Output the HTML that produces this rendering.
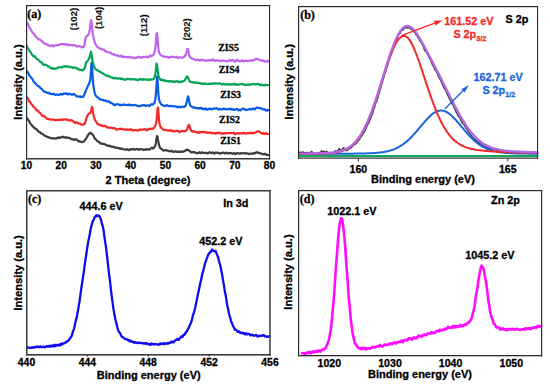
<!DOCTYPE html>
<html><head><meta charset="utf-8"><style>
html,body{margin:0;padding:0;background:#fff;}
body{width:550px;height:385px;overflow:hidden;position:relative;font-family:"Liberation Sans",sans-serif;}
svg{position:absolute;left:0;top:0;}
</style></head><body>
<svg width="550" height="385" viewBox="0 0 550 385">
<rect width="550" height="385" fill="#fff"/>
<path d="M27.00 118.14L27.50 118.94L28.00 119.59L28.50 120.25L29.00 120.88L29.50 121.81L30.00 122.88L30.50 123.66L31.00 124.18L31.50 124.65L32.00 125.44L32.50 126.19L33.00 126.49L33.50 126.97L34.00 127.63L34.50 128.07L35.00 128.47L35.50 128.42L36.00 128.90L36.50 129.06L37.00 129.82L37.50 130.24L38.00 131.07L38.50 131.54L39.00 132.13L39.50 131.93L40.00 132.14L40.50 132.51L41.00 133.38L41.50 133.50L42.00 133.73L42.50 133.82L43.00 134.26L43.50 134.86L44.00 135.17L44.50 135.59L45.00 135.81L45.50 136.10L46.00 136.34L46.50 136.43L47.00 136.80L47.50 136.80L48.00 137.00L48.50 137.43L49.00 137.51L49.50 137.77L50.00 137.62L50.50 137.89L51.00 138.21L51.50 138.42L52.00 138.38L52.50 138.06L53.00 138.08L53.50 138.33L54.00 138.48L54.50 138.38L55.00 138.56L55.50 138.70L56.00 138.54L56.50 138.40L57.00 137.95L57.50 138.04L58.00 137.67L58.50 137.56L59.00 137.40L59.50 137.72L60.00 137.98L60.50 137.66L61.00 137.23L61.50 137.05L62.00 136.85L62.50 136.87L63.00 136.69L63.50 137.34L64.00 137.58L64.50 137.56L65.00 137.28L65.50 137.15L66.00 137.60L66.50 137.67L67.00 137.76L67.50 137.64L68.00 137.82L68.50 137.97L69.00 137.80L69.50 137.97L70.00 138.06L70.50 138.66L71.00 138.95L71.50 139.18L72.00 139.22L72.50 139.16L73.00 139.52L73.50 139.51L74.00 139.82L74.50 139.48L75.00 139.70L75.50 139.40L76.00 139.41L76.50 139.46L77.00 139.80L77.50 140.42L78.00 141.12L78.50 141.31L79.00 141.32L79.50 141.07L80.00 141.49L80.50 141.72L81.00 141.75L81.50 141.90L82.00 142.12L82.50 142.00L83.00 141.87L83.50 141.70L84.00 141.29L84.50 140.71L85.00 139.73L85.50 139.31L86.00 138.56L86.50 138.05L87.00 136.98L87.50 136.17L88.00 135.05L88.50 134.34L89.00 133.85L89.50 133.24L90.00 133.19L90.50 132.58L91.00 133.28L91.50 133.25L92.00 134.18L92.50 134.51L93.00 134.93L93.50 135.78L94.00 136.91L94.50 138.11L95.00 138.65L95.50 139.05L96.00 139.43L96.50 140.23L97.00 140.66L97.50 141.31L98.00 141.36L98.50 141.75L99.00 141.86L99.50 142.59L100.00 142.96L100.50 143.64L101.00 143.59L101.50 143.66L102.00 143.56L102.50 143.60L103.00 143.89L103.50 144.04L104.00 144.25L104.50 144.15L105.00 144.24L105.50 144.81L106.00 145.14L106.50 145.27L107.00 145.18L107.50 145.78L108.00 145.87L108.50 145.92L109.00 145.66L109.50 145.74L110.00 146.06L110.50 146.30L111.00 146.78L111.50 146.58L112.00 146.79L112.50 146.77L113.00 147.00L113.50 146.79L114.00 146.76L114.50 147.17L115.00 147.39L115.50 147.80L116.00 147.62L116.50 147.74L117.00 147.67L117.50 147.90L118.00 148.02L118.50 148.19L119.00 148.16L119.50 148.54L120.00 148.80L120.50 148.96L121.00 148.69L121.50 148.35L122.00 148.54L122.50 148.92L123.00 149.24L123.50 149.23L124.00 149.26L124.50 149.52L125.00 149.65L125.50 149.46L126.00 149.65L126.50 149.26L127.00 149.57L127.50 149.41L128.00 149.87L128.50 150.11L129.00 150.34L129.50 149.96L130.00 149.26L130.50 149.14L131.00 149.18L131.50 149.52L132.00 149.53L132.50 149.41L133.00 148.99L133.50 148.88L134.00 149.23L134.50 149.61L135.00 149.57L135.50 149.39L136.00 149.13L136.50 149.09L137.00 149.07L137.50 149.05L138.00 149.18L138.50 149.37L139.00 149.78L139.50 149.48L140.00 149.35L140.50 149.07L141.00 149.09L141.50 149.26L142.00 149.29L142.50 149.54L143.00 149.57L143.50 150.13L144.00 149.77L144.50 149.87L145.00 149.43L145.50 149.70L146.00 149.22L146.50 149.13L147.00 149.26L147.50 149.52L148.00 149.61L148.50 149.37L149.00 149.58L149.50 149.52L150.00 149.09L150.50 148.65L151.00 148.18L151.50 147.87L152.00 147.78L152.50 148.28L153.00 148.72L153.50 148.28L154.00 147.38L154.50 146.95L155.00 146.22L155.50 144.85L156.00 142.16L156.50 138.76L157.00 136.02L157.50 136.58L158.00 139.91L158.50 142.84L159.00 145.15L159.50 146.48L160.00 147.89L160.50 148.20L161.00 148.79L161.50 148.92L162.00 149.18L162.50 149.77L163.00 150.24L163.50 150.57L164.00 150.51L164.50 150.40L165.00 150.07L165.50 150.05L166.00 150.05L166.50 150.67L167.00 150.47L167.50 150.50L168.00 150.51L168.50 151.02L169.00 151.20L169.50 151.28L170.00 151.39L170.50 151.26L171.00 151.22L171.50 150.59L172.00 151.06L172.50 151.37L173.00 151.96L173.50 151.82L174.00 151.68L174.50 151.58L175.00 151.43L175.50 151.40L176.00 151.40L176.50 151.79L177.00 151.98L177.50 151.98L178.00 151.59L178.50 151.38L179.00 151.74L179.50 151.98L180.00 152.14L180.50 151.76L181.00 151.44L181.50 151.41L182.00 151.65L182.50 151.78L183.00 151.71L183.50 151.43L184.00 151.45L184.50 151.04L185.00 150.83L185.50 150.35L186.00 150.46L186.50 149.86L187.00 149.68L187.50 149.63L188.00 149.96L188.50 150.24L189.00 150.52L189.50 151.04L190.00 151.30L190.50 151.61L191.00 152.21L191.50 152.50L192.00 152.48L192.50 151.95L193.00 152.14L193.50 151.99L194.00 152.02L194.50 152.26L195.00 152.37L195.50 152.84L196.00 152.92L196.50 153.18L197.00 153.10L197.50 153.21L198.00 153.14L198.50 152.92L199.00 152.27L199.50 152.34L200.00 152.77L200.50 153.25L201.00 153.07L201.50 152.61L202.00 152.33L202.50 152.59L203.00 152.73L203.50 152.89L204.00 152.90L204.50 152.89L205.00 152.85L205.50 152.84L206.00 152.89L206.50 153.01L207.00 153.35L207.50 153.50L208.00 153.42L208.50 152.70L209.00 152.67L209.50 152.27L210.00 152.34L210.50 152.44L211.00 152.98L211.50 153.24L212.00 152.73L212.50 152.52L213.00 152.42L213.50 152.90L214.00 153.44L214.50 153.63L215.00 153.35L215.50 152.66L216.00 152.61L216.50 152.74L217.00 152.75L217.50 152.79L218.00 152.60L218.50 153.06L219.00 153.26L219.50 153.72L220.00 153.40L220.50 153.30L221.00 153.06L221.50 153.08L222.00 152.92L222.50 152.69L223.00 152.48L223.50 152.72L224.00 152.95L224.50 153.30L225.00 153.35L225.50 153.04L226.00 152.85L226.50 152.69L227.00 153.13L227.50 153.22L228.00 153.40L228.50 153.37L229.00 153.21L229.50 152.83L230.00 152.96L230.50 153.31L231.00 153.12L231.50 153.24L232.00 153.28L232.50 153.95L233.00 153.61L233.50 153.44L234.00 152.95L234.50 153.55L235.00 153.59L235.50 154.15L236.00 153.52L236.50 153.60L237.00 152.96L237.50 153.03L238.00 153.21L238.50 153.31L239.00 153.61L239.50 153.50L240.00 153.56L240.50 153.25L241.00 153.11L241.50 153.32L242.00 153.33L242.50 153.27L243.00 153.23L243.50 153.15L244.00 153.07L244.50 153.14L245.00 153.53L245.50 153.50L246.00 153.52L246.50 153.22L247.00 153.35L247.50 153.53L248.00 153.56L248.50 154.07L249.00 153.74L249.50 153.92L250.00 153.57L250.50 153.57L251.00 153.60L251.50 153.59L252.00 153.84L252.50 153.67L253.00 153.42L253.50 153.21L254.00 153.14L254.50 153.44L255.00 153.15L255.50 153.00L256.00 152.33L256.50 152.56L257.00 152.34L257.50 152.39L258.00 152.38L258.50 153.00L259.00 153.24L259.50 153.21L260.00 153.00L260.50 153.22L261.00 153.64L261.50 153.73L262.00 153.91L262.50 154.03L263.00 154.11L263.50 154.41L264.00 154.16L264.50 154.12L265.00 153.71L265.50 154.33L266.00 154.55L266.50 155.02L267.00 154.68L267.50 154.81L268.00 154.81L268.50 155.24L269.00 155.25" fill="none" stroke="#3c3c3c" stroke-width="2.20" stroke-linejoin="round" stroke-linecap="round"/>
<path d="M27.00 97.30L27.50 97.91L28.00 98.65L28.50 99.89L29.00 101.01L29.50 101.82L30.00 102.09L30.50 102.53L31.00 103.67L31.50 104.03L32.00 104.84L32.50 104.96L33.00 106.34L33.50 106.60L34.00 107.33L34.50 107.38L35.00 107.93L35.50 108.80L36.00 109.77L36.50 110.38L37.00 110.41L37.50 110.33L38.00 110.79L38.50 111.41L39.00 112.22L39.50 112.72L40.00 112.93L40.50 113.37L41.00 113.81L41.50 114.73L42.00 115.54L42.50 115.93L43.00 115.92L43.50 115.92L44.00 116.21L44.50 116.57L45.00 116.91L45.50 117.15L46.00 117.77L46.50 118.10L47.00 118.69L47.50 118.84L48.00 118.98L48.50 118.97L49.00 119.13L49.50 119.28L50.00 119.62L50.50 119.76L51.00 119.69L51.50 119.73L52.00 119.53L52.50 119.75L53.00 119.73L53.50 119.63L54.00 119.80L54.50 119.91L55.00 120.31L55.50 120.20L56.00 120.08L56.50 119.89L57.00 119.89L57.50 119.81L58.00 119.98L58.50 119.75L59.00 119.85L59.50 119.81L60.00 119.97L60.50 119.78L61.00 119.80L61.50 119.44L62.00 119.57L62.50 119.46L63.00 119.80L63.50 119.75L64.00 119.54L64.50 119.40L65.00 119.43L65.50 119.65L66.00 119.75L66.50 119.37L67.00 119.48L67.50 119.79L68.00 120.43L68.50 120.52L69.00 120.12L69.50 120.26L70.00 120.32L70.50 120.27L71.00 120.31L71.50 120.20L72.00 120.62L72.50 120.59L73.00 121.33L73.50 121.70L74.00 122.06L74.50 122.33L75.00 122.89L75.50 122.98L76.00 122.75L76.50 122.34L77.00 122.38L77.50 122.68L78.00 123.18L78.50 123.49L79.00 123.76L79.50 123.66L80.00 123.76L80.50 123.85L81.00 124.27L81.50 124.65L82.00 124.72L82.50 124.67L83.00 124.63L83.50 124.42L84.00 124.19L84.50 124.09L85.00 123.04L85.50 121.57L86.00 119.46L86.50 118.12L87.00 116.72L87.50 115.87L88.00 114.66L88.50 113.88L89.00 113.53L89.50 113.56L90.00 113.12L90.50 112.39L91.00 111.43L91.50 109.05L92.00 106.89L92.50 107.88L93.00 112.08L93.50 115.31L94.00 117.31L94.50 118.64L95.00 119.63L95.50 120.72L96.00 121.58L96.50 122.35L97.00 122.97L97.50 123.88L98.00 124.23L98.50 124.36L99.00 124.30L99.50 124.86L100.00 125.11L100.50 125.58L101.00 125.32L101.50 125.47L102.00 125.31L102.50 125.83L103.00 126.24L103.50 126.13L104.00 125.94L104.50 125.95L105.00 126.27L105.50 126.29L106.00 126.57L106.50 126.94L107.00 127.47L107.50 127.29L108.00 127.51L108.50 127.47L109.00 127.89L109.50 127.59L110.00 127.56L110.50 127.46L111.00 127.58L111.50 127.96L112.00 128.05L112.50 128.08L113.00 128.03L113.50 127.99L114.00 128.43L114.50 128.36L115.00 128.42L115.50 128.55L116.00 129.20L116.50 129.76L117.00 129.60L117.50 129.26L118.00 129.23L118.50 129.26L119.00 129.08L119.50 128.86L120.00 129.03L120.50 129.12L121.00 128.82L121.50 128.50L122.00 128.85L122.50 129.08L123.00 129.39L123.50 129.35L124.00 129.67L124.50 129.67L125.00 129.77L125.50 129.50L126.00 129.53L126.50 129.25L127.00 129.69L127.50 129.78L128.00 129.86L128.50 129.58L129.00 129.55L129.50 129.86L130.00 129.62L130.50 129.46L131.00 129.24L131.50 130.07L132.00 130.47L132.50 130.53L133.00 130.16L133.50 130.38L134.00 130.35L134.50 130.13L135.00 129.96L135.50 130.10L136.00 130.31L136.50 129.96L137.00 130.24L137.50 130.45L138.00 130.66L138.50 130.41L139.00 129.65L139.50 129.66L140.00 129.48L140.50 129.97L141.00 129.97L141.50 129.94L142.00 129.50L142.50 129.43L143.00 129.34L143.50 129.61L144.00 129.40L144.50 129.47L145.00 129.06L145.50 129.41L146.00 129.52L146.50 130.19L147.00 130.32L147.50 130.25L148.00 129.63L148.50 129.02L149.00 128.74L149.50 128.95L150.00 129.10L150.50 128.87L151.00 128.97L151.50 128.55L152.00 128.89L152.50 128.65L153.00 128.69L153.50 128.35L154.00 127.89L154.50 127.31L155.00 126.20L155.50 125.08L156.00 123.57L156.50 120.91L157.00 115.64L157.50 108.93L158.00 107.53L158.50 113.60L159.00 119.47L159.50 123.41L160.00 125.32L160.50 126.73L161.00 127.55L161.50 128.19L162.00 128.38L162.50 128.71L163.00 129.44L163.50 129.84L164.00 130.02L164.50 129.80L165.00 130.08L165.50 130.00L166.00 129.94L166.50 130.06L167.00 130.41L167.50 130.55L168.00 130.74L168.50 130.61L169.00 130.66L169.50 130.29L170.00 130.78L170.50 130.42L171.00 130.44L171.50 130.09L172.00 130.68L172.50 131.00L173.00 131.46L173.50 131.07L174.00 131.17L174.50 130.90L175.00 131.15L175.50 131.17L176.00 131.11L176.50 130.89L177.00 130.76L177.50 130.70L178.00 131.04L178.50 131.24L179.00 131.64L179.50 132.12L180.00 132.03L180.50 131.67L181.00 131.20L181.50 131.05L182.00 131.09L182.50 131.31L183.00 131.32L183.50 131.11L184.00 131.07L184.50 131.06L185.00 131.36L185.50 130.99L186.00 130.77L186.50 130.15L187.00 129.52L187.50 128.20L188.00 126.61L188.50 125.11L189.00 124.92L189.50 126.33L190.00 127.84L190.50 129.39L191.00 129.96L191.50 130.88L192.00 131.23L192.50 131.52L193.00 131.03L193.50 131.10L194.00 131.44L194.50 131.73L195.00 131.88L195.50 131.83L196.00 132.14L196.50 132.02L197.00 132.18L197.50 132.31L198.00 133.01L198.50 132.85L199.00 132.59L199.50 131.92L200.00 132.31L200.50 132.20L201.00 132.30L201.50 132.16L202.00 132.22L202.50 132.14L203.00 132.08L203.50 131.87L204.00 131.79L204.50 131.83L205.00 132.30L205.50 132.58L206.00 132.32L206.50 132.22L207.00 132.44L207.50 132.93L208.00 133.02L208.50 132.70L209.00 132.73L209.50 132.65L210.00 132.61L210.50 132.33L211.00 132.76L211.50 133.06L212.00 133.47L212.50 133.09L213.00 133.25L213.50 132.91L214.00 132.99L214.50 133.31L215.00 133.60L215.50 133.54L216.00 133.04L216.50 132.96L217.00 133.31L217.50 133.24L218.00 132.83L218.50 132.54L219.00 132.65L219.50 133.03L220.00 133.36L220.50 133.42L221.00 133.57L221.50 133.08L222.00 133.20L222.50 133.46L223.00 133.85L223.50 133.72L224.00 133.34L224.50 133.54L225.00 133.31L225.50 133.26L226.00 132.99L226.50 133.33L227.00 133.27L227.50 133.24L228.00 133.03L228.50 133.15L229.00 133.06L229.50 132.89L230.00 132.86L230.50 133.07L231.00 133.11L231.50 133.07L232.00 133.02L232.50 133.01L233.00 133.09L233.50 132.75L234.00 133.20L234.50 133.63L235.00 134.26L235.50 133.99L236.00 133.67L236.50 133.29L237.00 133.36L237.50 133.53L238.00 133.24L238.50 133.44L239.00 133.12L239.50 133.68L240.00 133.50L240.50 133.38L241.00 133.16L241.50 133.27L242.00 133.42L242.50 133.47L243.00 133.21L243.50 132.78L244.00 132.87L244.50 133.11L245.00 133.58L245.50 133.41L246.00 133.48L246.50 133.36L247.00 133.20L247.50 132.95L248.00 133.28L248.50 133.13L249.00 133.40L249.50 133.02L250.00 133.07L250.50 133.07L251.00 133.15L251.50 133.08L252.00 132.72L252.50 132.89L253.00 133.33L253.50 133.25L254.00 133.06L254.50 132.86L255.00 132.68L255.50 132.51L256.00 132.17L256.50 131.97L257.00 131.58L257.50 131.40L258.00 131.38L258.50 131.35L259.00 131.34L259.50 131.75L260.00 132.15L260.50 132.67L261.00 132.92L261.50 133.20L262.00 133.66L262.50 133.40L263.00 133.57L263.50 133.15L264.00 133.78L264.50 134.04L265.00 133.78L265.50 133.27L266.00 133.11L266.50 133.71L267.00 134.10L267.50 133.99L268.00 133.96L268.50 133.98L269.00 134.02" fill="none" stroke="#f42828" stroke-width="2.20" stroke-linejoin="round" stroke-linecap="round"/>
<path d="M27.00 71.18L27.50 71.69L28.00 72.77L28.50 73.27L29.00 74.79L29.50 75.44L30.00 76.26L30.50 76.89L31.00 77.48L31.50 78.17L32.00 78.46L32.50 79.30L33.00 80.22L33.50 81.36L34.00 81.93L34.50 82.62L35.00 82.98L35.50 83.53L36.00 83.96L36.50 84.68L37.00 85.12L37.50 85.44L38.00 85.66L38.50 86.20L39.00 86.52L39.50 87.20L40.00 87.53L40.50 88.24L41.00 88.29L41.50 88.86L42.00 89.26L42.50 89.75L43.00 90.48L43.50 90.85L44.00 91.66L44.50 91.79L45.00 91.91L45.50 91.79L46.00 92.00L46.50 92.46L47.00 92.85L47.50 92.99L48.00 92.87L48.50 93.04L49.00 92.84L49.50 93.42L50.00 93.45L50.50 93.88L51.00 93.89L51.50 94.21L52.00 94.17L52.50 93.95L53.00 93.76L53.50 93.71L54.00 93.92L54.50 94.48L55.00 94.69L55.50 95.01L56.00 94.40L56.50 94.64L57.00 94.40L57.50 94.62L58.00 94.62L58.50 94.98L59.00 94.97L59.50 94.81L60.00 94.19L60.50 94.19L61.00 94.05L61.50 94.34L62.00 94.15L62.50 94.49L63.00 93.86L63.50 93.76L64.00 93.55L64.50 93.84L65.00 93.72L65.50 93.48L66.00 93.28L66.50 93.48L67.00 94.05L67.50 94.60L68.00 94.40L68.50 93.79L69.00 93.54L69.50 94.04L70.00 94.14L70.50 94.16L71.00 94.23L71.50 94.66L72.00 94.82L72.50 94.51L73.00 94.12L73.50 94.15L74.00 94.02L74.50 94.60L75.00 94.75L75.50 95.45L76.00 95.85L76.50 96.40L77.00 96.27L77.50 96.27L78.00 96.47L78.50 96.74L79.00 96.56L79.50 96.48L80.00 96.47L80.50 97.09L81.00 96.73L81.50 96.91L82.00 96.59L82.50 97.03L83.00 96.98L83.50 96.34L84.00 95.31L84.50 94.37L85.00 92.80L85.50 91.75L86.00 90.12L86.50 89.28L87.00 88.07L87.50 86.93L88.00 85.75L88.50 84.74L89.00 83.80L89.50 82.50L90.00 80.88L90.50 77.79L91.00 71.14L91.50 62.65L92.00 64.35L92.50 74.51L93.00 81.99L93.50 86.15L94.00 89.29L94.50 92.02L95.00 93.79L95.50 95.11L96.00 95.90L96.50 96.58L97.00 96.72L97.50 97.23L98.00 97.51L98.50 98.03L99.00 98.54L99.50 99.05L100.00 99.41L100.50 99.46L101.00 99.58L101.50 99.62L102.00 99.64L102.50 99.93L103.00 99.89L103.50 100.39L104.00 100.41L104.50 100.66L105.00 100.47L105.50 100.52L106.00 100.89L106.50 101.03L107.00 101.59L107.50 101.59L108.00 101.46L108.50 101.27L109.00 101.21L109.50 101.84L110.00 102.38L110.50 103.10L111.00 103.02L111.50 102.84L112.00 103.27L112.50 103.80L113.00 104.14L113.50 104.17L114.00 104.75L114.50 105.13L115.00 105.03L115.50 104.67L116.00 104.59L116.50 104.50L117.00 104.27L117.50 104.20L118.00 104.19L118.50 104.44L119.00 104.49L119.50 105.20L120.00 105.08L120.50 105.07L121.00 104.61L121.50 104.90L122.00 105.17L122.50 105.14L123.00 104.91L123.50 104.40L124.00 104.34L124.50 104.64L125.00 105.01L125.50 105.01L126.00 104.85L126.50 104.87L127.00 105.20L127.50 105.18L128.00 105.14L128.50 104.69L129.00 104.60L129.50 105.00L130.00 104.94L130.50 105.12L131.00 104.86L131.50 105.25L132.00 105.17L132.50 105.13L133.00 105.22L133.50 105.39L134.00 105.04L134.50 105.02L135.00 104.88L135.50 105.16L136.00 105.25L136.50 105.57L137.00 105.88L137.50 105.74L138.00 105.81L138.50 105.88L139.00 106.22L139.50 106.32L140.00 106.06L140.50 105.81L141.00 105.70L141.50 105.46L142.00 105.54L142.50 105.27L143.00 105.48L143.50 105.09L144.00 105.01L144.50 105.08L145.00 105.61L145.50 105.99L146.00 105.96L146.50 105.74L147.00 105.35L147.50 105.43L148.00 105.39L148.50 105.65L149.00 105.89L149.50 105.88L150.00 105.39L150.50 104.79L151.00 104.40L151.50 104.33L152.00 104.60L152.50 104.71L153.00 104.34L153.50 103.77L154.00 103.34L154.50 102.60L155.00 100.77L155.50 97.79L156.00 93.19L156.50 85.36L157.00 76.67L157.50 78.23L158.00 87.89L158.50 95.31L159.00 99.41L159.50 101.25L160.00 102.38L160.50 103.21L161.00 104.05L161.50 104.68L162.00 104.85L162.50 104.97L163.00 105.26L163.50 105.60L164.00 105.95L164.50 105.93L165.00 106.09L165.50 106.18L166.00 105.55L166.50 105.25L167.00 105.13L167.50 105.47L168.00 105.68L168.50 106.04L169.00 106.18L169.50 105.93L170.00 106.13L170.50 106.16L171.00 106.17L171.50 105.85L172.00 106.06L172.50 106.20L173.00 106.35L173.50 106.21L174.00 106.21L174.50 106.13L175.00 106.42L175.50 106.53L176.00 106.60L176.50 106.47L177.00 107.21L177.50 107.04L178.00 107.37L178.50 106.82L179.00 106.97L179.50 106.86L180.00 107.07L180.50 107.36L181.00 107.28L181.50 106.97L182.00 106.58L182.50 106.57L183.00 106.75L183.50 107.04L184.00 106.88L184.50 106.77L185.00 106.47L185.50 105.93L186.00 104.65L186.50 102.88L187.00 100.64L187.50 98.60L188.00 96.39L188.50 97.29L189.00 99.70L189.50 102.85L190.00 104.66L190.50 105.71L191.00 106.11L191.50 106.46L192.00 106.89L192.50 107.10L193.00 107.29L193.50 107.74L194.00 107.64L194.50 107.81L195.00 107.39L195.50 107.85L196.00 108.04L196.50 108.27L197.00 108.44L197.50 108.00L198.00 108.28L198.50 108.05L199.00 108.53L199.50 108.38L200.00 108.02L200.50 107.77L201.00 107.81L201.50 108.68L202.00 108.92L202.50 108.96L203.00 108.39L203.50 108.64L204.00 108.98L204.50 109.30L205.00 108.99L205.50 108.32L206.00 108.52L206.50 109.13L207.00 109.62L207.50 109.72L208.00 109.31L208.50 108.98L209.00 109.02L209.50 108.68L210.00 108.85L210.50 108.66L211.00 109.10L211.50 109.25L212.00 109.29L212.50 108.97L213.00 108.64L213.50 108.59L214.00 108.62L214.50 108.63L215.00 108.37L215.50 108.43L216.00 108.34L216.50 108.33L217.00 108.11L217.50 108.54L218.00 108.90L218.50 109.65L219.00 109.32L219.50 109.11L220.00 108.90L220.50 109.17L221.00 109.25L221.50 109.42L222.00 109.40L222.50 109.24L223.00 108.64L223.50 108.78L224.00 109.08L224.50 109.08L225.00 108.82L225.50 108.87L226.00 109.27L226.50 109.34L227.00 109.37L227.50 109.37L228.00 109.14L228.50 108.96L229.00 108.93L229.50 109.18L230.00 108.82L230.50 108.68L231.00 108.96L231.50 109.71L232.00 109.33L232.50 109.72L233.00 109.17L233.50 109.82L234.00 109.54L234.50 109.98L235.00 109.82L235.50 109.34L236.00 109.28L236.50 109.11L237.00 108.84L237.50 109.30L238.00 109.59L238.50 110.47L239.00 109.73L239.50 109.89L240.00 109.85L240.50 110.35L241.00 110.06L241.50 109.50L242.00 109.15L242.50 108.72L243.00 108.62L243.50 108.68L244.00 108.93L244.50 109.25L245.00 109.21L245.50 109.80L246.00 110.10L246.50 110.11L247.00 109.96L247.50 109.54L248.00 109.47L248.50 109.40L249.00 109.30L249.50 109.29L250.00 108.82L250.50 109.07L251.00 109.42L251.50 109.49L252.00 109.46L252.50 108.88L253.00 108.72L253.50 108.32L254.00 108.66L254.50 109.21L255.00 109.36L255.50 108.69L256.00 108.10L256.50 107.69L257.00 107.80L257.50 107.61L258.00 107.77L258.50 107.88L259.00 107.95L259.50 108.10L260.00 107.91L260.50 108.19L261.00 108.21L261.50 108.71L262.00 108.77L262.50 109.21L263.00 109.44L263.50 109.45L264.00 109.35L264.50 109.14L265.00 109.64L265.50 110.21L266.00 110.62L266.50 110.45L267.00 110.44L267.50 110.00L268.00 110.41L268.50 110.02L269.00 110.36" fill="none" stroke="#0a5ce6" stroke-width="2.20" stroke-linejoin="round" stroke-linecap="round"/>
<path d="M27.00 46.26L27.50 47.64L28.00 49.01L28.50 49.47L29.00 50.01L29.50 51.06L30.00 51.47L30.50 52.05L31.00 52.75L31.50 53.69L32.00 54.62L32.50 55.07L33.00 56.01L33.50 56.11L34.00 56.63L34.50 56.24L35.00 56.61L35.50 57.30L36.00 57.96L36.50 58.78L37.00 58.94L37.50 59.36L38.00 59.61L38.50 59.93L39.00 60.45L39.50 61.06L40.00 61.68L40.50 62.03L41.00 62.06L41.50 62.34L42.00 62.78L42.50 63.51L43.00 64.31L43.50 64.82L44.00 64.91L44.50 64.64L45.00 64.58L45.50 64.68L46.00 64.79L46.50 65.16L47.00 65.53L47.50 66.15L48.00 66.39L48.50 66.67L49.00 66.48L49.50 67.08L50.00 67.38L50.50 68.13L51.00 68.10L51.50 68.44L52.00 68.16L52.50 68.26L53.00 68.61L53.50 68.51L54.00 68.67L54.50 68.51L55.00 68.85L55.50 68.76L56.00 68.64L56.50 68.36L57.00 68.22L57.50 67.69L58.00 67.58L58.50 67.26L59.00 67.28L59.50 67.32L60.00 67.41L60.50 67.01L61.00 67.26L61.50 67.27L62.00 67.59L62.50 66.99L63.00 66.63L63.50 66.50L64.00 66.58L64.50 66.19L65.00 66.19L65.50 66.69L66.00 66.66L66.50 66.74L67.00 66.25L67.50 66.66L68.00 66.81L68.50 66.56L69.00 66.71L69.50 66.83L70.00 67.14L70.50 67.13L71.00 66.96L71.50 67.03L72.00 67.56L72.50 67.46L73.00 67.85L73.50 67.38L74.00 67.82L74.50 67.73L75.00 67.59L75.50 67.59L76.00 67.55L76.50 68.16L77.00 68.65L77.50 68.82L78.00 68.87L78.50 69.02L79.00 69.44L79.50 70.13L80.00 70.04L80.50 69.96L81.00 69.73L81.50 70.01L82.00 70.44L82.50 70.49L83.00 70.24L83.50 69.73L84.00 68.91L84.50 68.38L85.00 67.21L85.50 65.12L86.00 62.65L86.50 61.72L87.00 61.48L87.50 61.00L88.00 60.21L88.50 59.60L89.00 58.68L89.50 57.54L90.00 55.88L90.50 53.23L91.00 51.74L91.50 54.22L92.00 58.03L92.50 60.52L93.00 62.49L93.50 64.22L94.00 66.05L94.50 67.47L95.00 68.54L95.50 69.07L96.00 69.47L96.50 69.82L97.00 70.00L97.50 70.30L98.00 70.59L98.50 71.19L99.00 71.14L99.50 71.37L100.00 71.68L100.50 72.26L101.00 72.33L101.50 72.71L102.00 72.69L102.50 73.15L103.00 73.58L103.50 73.99L104.00 74.23L104.50 74.48L105.00 74.85L105.50 75.19L106.00 75.31L106.50 75.89L107.00 75.76L107.50 75.80L108.00 75.61L108.50 76.06L109.00 76.25L109.50 76.45L110.00 76.87L110.50 76.98L111.00 77.29L111.50 77.42L112.00 77.55L112.50 77.65L113.00 78.00L113.50 78.31L114.00 78.23L114.50 77.96L115.00 77.78L115.50 78.04L116.00 78.30L116.50 78.39L117.00 78.35L117.50 78.46L118.00 78.58L118.50 78.72L119.00 78.33L119.50 78.31L120.00 78.21L120.50 78.91L121.00 79.04L121.50 79.07L122.00 78.56L122.50 78.65L123.00 78.92L123.50 79.11L124.00 79.59L124.50 79.54L125.00 79.83L125.50 79.50L126.00 79.61L126.50 79.05L127.00 79.00L127.50 78.89L128.00 79.16L128.50 78.78L129.00 79.00L129.50 79.00L130.00 79.37L130.50 79.16L131.00 79.22L131.50 79.41L132.00 79.23L132.50 79.11L133.00 79.11L133.50 79.42L134.00 79.55L134.50 79.39L135.00 79.21L135.50 79.30L136.00 79.67L136.50 79.64L137.00 79.98L137.50 79.93L138.00 80.07L138.50 79.94L139.00 79.49L139.50 79.25L140.00 78.84L140.50 79.07L141.00 79.37L141.50 79.54L142.00 79.66L142.50 79.31L143.00 79.53L143.50 79.23L144.00 79.54L144.50 79.37L145.00 79.43L145.50 79.30L146.00 79.19L146.50 79.42L147.00 79.82L147.50 80.14L148.00 79.94L148.50 79.65L149.00 79.33L149.50 79.60L150.00 79.31L150.50 79.70L151.00 79.44L151.50 79.60L152.00 79.29L152.50 79.40L153.00 79.36L153.50 79.09L154.00 78.28L154.50 77.46L155.00 75.83L155.50 72.92L156.00 68.43L156.50 63.65L157.00 64.39L157.50 68.89L158.00 73.07L158.50 75.84L159.00 77.33L159.50 78.49L160.00 79.03L160.50 79.79L161.00 79.53L161.50 79.67L162.00 79.93L162.50 80.37L163.00 80.53L163.50 80.01L164.00 80.39L164.50 80.31L165.00 81.04L165.50 80.59L166.00 80.91L166.50 80.74L167.00 81.32L167.50 81.04L168.00 81.00L168.50 81.33L169.00 81.38L169.50 81.40L170.00 80.92L170.50 80.92L171.00 81.33L171.50 81.76L172.00 81.85L172.50 81.29L173.00 81.20L173.50 81.59L174.00 82.12L174.50 82.14L175.00 81.76L175.50 81.58L176.00 81.07L176.50 80.97L177.00 81.21L177.50 81.36L178.00 82.11L178.50 81.93L179.00 81.93L179.50 81.62L180.00 81.95L180.50 82.16L181.00 81.73L181.50 81.40L182.00 81.52L182.50 81.59L183.00 81.25L183.50 81.03L184.00 80.94L184.50 80.56L185.00 79.79L185.50 78.89L186.00 78.11L186.50 76.90L187.00 76.30L187.50 76.58L188.00 77.50L188.50 78.77L189.00 79.93L189.50 81.13L190.00 81.81L190.50 81.92L191.00 81.94L191.50 82.16L192.00 82.24L192.50 82.14L193.00 82.29L193.50 82.46L194.00 82.92L194.50 82.50L195.00 82.44L195.50 82.31L196.00 82.56L196.50 82.95L197.00 82.75L197.50 83.01L198.00 82.72L198.50 83.00L199.00 83.01L199.50 83.26L200.00 83.19L200.50 83.45L201.00 83.31L201.50 83.69L202.00 83.38L202.50 83.85L203.00 83.73L203.50 83.91L204.00 83.49L204.50 83.82L205.00 83.48L205.50 83.57L206.00 83.74L206.50 83.97L207.00 84.08L207.50 84.16L208.00 84.18L208.50 84.00L209.00 83.71L209.50 83.41L210.00 83.81L210.50 83.92L211.00 84.05L211.50 83.71L212.00 83.51L212.50 83.64L213.00 83.57L213.50 83.66L214.00 83.26L214.50 83.37L215.00 83.19L215.50 83.55L216.00 83.71L216.50 83.55L217.00 83.74L217.50 83.65L218.00 83.77L218.50 83.38L219.00 83.19L219.50 83.40L220.00 83.49L220.50 83.75L221.00 83.90L221.50 84.32L222.00 84.63L222.50 84.36L223.00 83.95L223.50 83.85L224.00 83.98L224.50 84.43L225.00 84.24L225.50 84.43L226.00 84.39L226.50 84.54L227.00 84.41L227.50 84.33L228.00 84.25L228.50 84.20L229.00 84.34L229.50 84.20L230.00 84.52L230.50 84.31L231.00 84.63L231.50 84.27L232.00 84.26L232.50 84.48L233.00 84.45L233.50 84.26L234.00 83.72L234.50 83.73L235.00 84.44L235.50 84.64L236.00 84.91L236.50 84.28L237.00 84.33L237.50 84.29L238.00 84.87L238.50 84.67L239.00 84.67L239.50 84.38L240.00 84.33L240.50 84.22L241.00 84.12L241.50 83.87L242.00 84.01L242.50 84.18L243.00 84.58L243.50 84.20L244.00 84.40L244.50 84.56L245.00 85.04L245.50 85.04L246.00 84.89L246.50 84.86L247.00 84.53L247.50 84.63L248.00 84.45L248.50 84.51L249.00 84.74L249.50 84.78L250.00 84.74L250.50 84.45L251.00 84.48L251.50 84.30L252.00 84.22L252.50 84.10L253.00 84.11L253.50 84.11L254.00 83.90L254.50 84.31L255.00 84.47L255.50 84.54L256.00 83.99L256.50 84.08L257.00 84.03L257.50 84.09L258.00 83.83L258.50 84.00L259.00 84.49L259.50 84.60L260.00 85.11L260.50 84.79L261.00 85.05L261.50 84.52L262.00 85.15L262.50 85.02L263.00 85.27L263.50 85.15L264.00 85.53L264.50 85.36L265.00 85.15L265.50 84.65L266.00 84.94L266.50 85.03L267.00 85.27L267.50 85.14L268.00 85.12L268.50 85.07L269.00 85.23" fill="none" stroke="#05a555" stroke-width="2.20" stroke-linejoin="round" stroke-linecap="round"/>
<path d="M27.00 22.62L27.50 23.40L28.00 24.41L28.50 25.10L29.00 26.62L29.50 27.42L30.00 28.37L30.50 28.90L31.00 30.04L31.50 30.86L32.00 31.78L32.50 32.42L33.00 33.03L33.50 33.40L34.00 34.07L34.50 34.78L35.00 35.64L35.50 36.27L36.00 36.99L36.50 37.31L37.00 37.45L37.50 37.99L38.00 38.96L38.50 39.41L39.00 39.28L39.50 39.28L40.00 39.72L40.50 40.02L41.00 40.53L41.50 40.74L42.00 41.17L42.50 41.69L43.00 42.13L43.50 42.68L44.00 42.92L44.50 43.50L45.00 43.71L45.50 43.85L46.00 43.78L46.50 44.46L47.00 44.83L47.50 45.00L48.00 44.85L48.50 45.03L49.00 45.47L49.50 45.92L50.00 46.13L50.50 45.99L51.00 45.67L51.50 45.19L52.00 45.40L52.50 45.49L53.00 46.34L53.50 46.34L54.00 45.91L54.50 45.24L55.00 45.24L55.50 45.40L56.00 45.31L56.50 45.14L57.00 45.37L57.50 45.41L58.00 45.18L58.50 45.13L59.00 44.92L59.50 44.85L60.00 44.28L60.50 44.09L61.00 44.20L61.50 44.04L62.00 44.09L62.50 44.04L63.00 44.24L63.50 44.29L64.00 43.92L64.50 44.28L65.00 44.49L65.50 44.80L66.00 44.23L66.50 43.85L67.00 44.07L67.50 44.84L68.00 45.19L68.50 45.32L69.00 44.94L69.50 44.92L70.00 44.76L70.50 45.05L71.00 44.86L71.50 45.13L72.00 45.39L72.50 45.55L73.00 45.17L73.50 45.06L74.00 45.25L74.50 45.14L75.00 45.33L75.50 45.59L76.00 46.06L76.50 46.42L77.00 46.50L77.50 46.52L78.00 46.18L78.50 46.01L79.00 46.08L79.50 46.21L80.00 46.37L80.50 46.49L81.00 46.81L81.50 47.13L82.00 47.41L82.50 47.18L83.00 47.08L83.50 46.97L84.00 46.22L84.50 45.40L85.00 40.66L85.50 38.40L86.00 36.89L86.50 36.33L87.00 35.90L87.50 35.91L88.00 35.22L88.50 34.31L89.00 32.83L89.50 31.14L90.00 28.23L90.50 24.24L91.00 20.01L91.50 21.00L92.00 26.12L92.50 31.33L93.00 34.88L93.50 37.37L94.00 39.80L94.50 41.21L95.00 43.11L95.50 44.01L96.00 45.22L96.50 45.53L97.00 46.31L97.50 47.22L98.00 47.62L98.50 47.64L99.00 47.74L99.50 48.23L100.00 48.93L100.50 48.86L101.00 49.15L101.50 48.74L102.00 49.52L102.50 49.50L103.00 49.55L103.50 49.33L104.00 49.69L104.50 50.75L105.00 50.93L105.50 51.17L106.00 51.12L106.50 51.72L107.00 51.91L107.50 52.21L108.00 52.20L108.50 52.37L109.00 52.39L109.50 52.51L110.00 52.61L110.50 53.05L111.00 52.99L111.50 53.63L112.00 53.79L112.50 54.26L113.00 54.08L113.50 54.05L114.00 54.36L114.50 54.86L115.00 55.16L115.50 55.44L116.00 55.36L116.50 55.51L117.00 55.15L117.50 55.56L118.00 55.68L118.50 56.04L119.00 56.23L119.50 56.44L120.00 56.04L120.50 55.89L121.00 55.51L121.50 56.35L122.00 56.90L122.50 57.14L123.00 56.99L123.50 56.49L124.00 56.71L124.50 56.88L125.00 57.23L125.50 57.01L126.00 57.24L126.50 56.83L127.00 57.13L127.50 57.09L128.00 57.46L128.50 57.25L129.00 56.91L129.50 56.71L130.00 56.92L130.50 57.33L131.00 57.19L131.50 57.32L132.00 57.24L132.50 57.64L133.00 57.67L133.50 57.87L134.00 57.88L134.50 57.97L135.00 57.80L135.50 58.08L136.00 57.53L136.50 57.69L137.00 57.28L137.50 57.61L138.00 57.16L138.50 56.84L139.00 56.82L139.50 56.87L140.00 57.34L140.50 57.11L141.00 57.53L141.50 57.47L142.00 57.70L142.50 57.25L143.00 57.01L143.50 56.81L144.00 56.82L144.50 56.95L145.00 57.11L145.50 56.90L146.00 56.80L146.50 56.62L147.00 56.89L147.50 57.27L148.00 57.52L148.50 57.36L149.00 56.58L149.50 56.08L150.00 55.70L150.50 56.05L151.00 56.02L151.50 56.18L152.00 55.66L152.50 55.50L153.00 55.32L153.50 54.67L154.00 53.65L154.50 51.79L155.00 49.84L155.50 46.04L156.00 40.39L156.50 33.95L157.00 33.10L157.50 38.86L158.00 45.56L158.50 49.65L159.00 52.22L159.50 53.29L160.00 54.26L160.50 54.68L161.00 55.05L161.50 55.47L162.00 56.16L162.50 56.01L163.00 56.38L163.50 56.17L164.00 56.53L164.50 56.56L165.00 56.73L165.50 56.94L166.00 57.04L166.50 57.05L167.00 56.65L167.50 56.91L168.00 57.27L168.50 57.91L169.00 57.86L169.50 57.15L170.00 56.96L170.50 56.63L171.00 56.83L171.50 57.08L172.00 57.11L172.50 57.23L173.00 56.68L173.50 56.84L174.00 56.90L174.50 57.17L175.00 57.07L175.50 57.45L176.00 57.36L176.50 57.30L177.00 56.77L177.50 57.26L178.00 57.90L178.50 58.12L179.00 57.73L179.50 57.21L180.00 57.34L180.50 57.27L181.00 57.62L181.50 57.64L182.00 57.77L182.50 57.52L183.00 57.25L183.50 57.38L184.00 56.81L184.50 56.57L185.00 55.69L185.50 55.02L186.00 53.73L186.50 52.26L187.00 50.43L187.50 48.83L188.00 48.98L188.50 51.18L189.00 53.90L189.50 55.87L190.00 57.04L190.50 57.41L191.00 57.91L191.50 58.21L192.00 58.47L192.50 58.59L193.00 58.78L193.50 59.13L194.00 59.27L194.50 59.44L195.00 59.54L195.50 60.04L196.00 60.02L196.50 60.06L197.00 59.93L197.50 59.94L198.00 59.90L198.50 59.83L199.00 60.05L199.50 60.34L200.00 60.71L200.50 60.24L201.00 60.06L201.50 59.73L202.00 60.13L202.50 60.14L203.00 60.14L203.50 60.28L204.00 60.42L204.50 60.31L205.00 60.43L205.50 60.61L206.00 60.75L206.50 60.66L207.00 60.32L207.50 60.68L208.00 60.48L208.50 60.47L209.00 60.18L209.50 60.08L210.00 60.29L210.50 60.41L211.00 60.58L211.50 60.44L212.00 59.67L212.50 59.69L213.00 59.43L213.50 60.23L214.00 60.45L214.50 60.89L215.00 60.77L215.50 60.51L216.00 60.44L216.50 60.41L217.00 60.34L217.50 60.18L218.00 60.54L218.50 60.66L219.00 61.05L219.50 60.76L220.00 60.78L220.50 60.56L221.00 60.71L221.50 60.87L222.00 60.96L222.50 60.73L223.00 60.41L223.50 60.70L224.00 60.79L224.50 60.89L225.00 60.86L225.50 61.14L226.00 61.31L226.50 60.94L227.00 61.20L227.50 61.18L228.00 61.37L228.50 60.87L229.00 60.51L229.50 60.14L230.00 60.26L230.50 60.63L231.00 60.85L231.50 60.54L232.00 60.18L232.50 60.16L233.00 60.11L233.50 60.59L234.00 60.89L234.50 61.76L235.00 61.76L235.50 61.42L236.00 60.67L236.50 59.80L237.00 59.80L237.50 59.95L238.00 60.84L238.50 61.09L239.00 61.24L239.50 61.09L240.00 61.11L240.50 61.28L241.00 61.02L241.50 60.80L242.00 60.23L242.50 60.77L243.00 61.12L243.50 61.55L244.00 60.98L244.50 60.76L245.00 60.55L245.50 60.81L246.00 60.73L246.50 60.88L247.00 60.78L247.50 60.98L248.00 60.91L248.50 60.92L249.00 60.71L249.50 60.55L250.00 60.75L250.50 60.69L251.00 60.81L251.50 60.52L252.00 60.22L252.50 60.28L253.00 60.06L253.50 60.40L254.00 60.17L254.50 59.90L255.00 59.39L255.50 59.00L256.00 58.97L256.50 58.75L257.00 58.91L257.50 59.03L258.00 59.45L258.50 59.40L259.00 59.74L259.50 59.74L260.00 60.03L260.50 60.27L261.00 60.59L261.50 60.64L262.00 60.41L262.50 60.54L263.00 60.78L263.50 61.02L264.00 60.89L264.50 60.99L265.00 61.59L265.50 61.73L266.00 61.73L266.50 61.35L267.00 60.93L267.50 60.92L268.00 60.73L268.50 61.56L269.00 61.57" fill="none" stroke="#c064ee" stroke-width="2.20" stroke-linejoin="round" stroke-linecap="round"/>
<path d="M299.40 152.55L299.90 152.61L300.40 152.22L300.90 152.27L301.40 152.83L301.90 152.09L302.40 152.13L302.90 152.23L303.40 152.01L303.90 153.42L304.40 153.65L304.90 152.58L305.40 153.16L305.90 152.69L306.40 152.47L306.90 153.04L307.40 152.30L307.90 152.67L308.40 152.74L308.90 153.06L309.40 153.29L309.90 152.94L310.40 152.34L310.90 151.85L311.40 151.48L311.90 151.59L312.40 152.67L312.90 153.09L313.40 154.13L313.90 154.73L314.40 154.16L314.90 153.77L315.40 153.80L315.90 153.41L316.40 153.57L316.90 153.60L317.40 153.18L317.90 153.28L318.40 152.73L318.90 152.50L319.40 153.11L319.90 152.44L320.40 152.43L320.90 152.14L321.40 150.76L321.90 151.76L322.40 151.69L322.90 151.59L323.40 151.48L323.90 151.09L324.40 151.85L324.90 152.27L325.40 151.91L325.90 151.86L326.40 151.49L326.90 151.31L327.40 152.03L327.90 152.22L328.40 153.29L328.90 153.45L329.40 153.77L329.90 153.52L330.40 152.58L330.90 152.80L331.40 153.21L331.90 152.79L332.40 153.00L332.90 152.77L333.40 152.60L333.90 153.27L334.40 152.37L334.90 150.78L335.40 151.41L335.90 151.88L336.40 151.04L336.90 151.41L337.40 150.65L337.90 150.48L338.40 150.48L338.90 148.66L339.40 148.80L339.90 149.65L340.40 150.64L340.90 151.00L341.40 149.81L341.90 149.28L342.40 149.65L342.90 148.98L343.40 147.68L343.90 148.30L344.40 149.26L344.90 148.62L345.40 150.34L345.90 150.52L346.40 150.64L346.90 150.70L347.40 149.75L347.90 149.69L348.40 149.63L348.90 148.88L349.40 148.65L349.90 148.37L350.40 147.35L350.90 147.75L351.40 147.81L351.90 146.70L352.40 146.52L352.90 145.86L353.40 144.97L353.90 144.85L354.40 144.64L354.90 144.33L355.40 144.31L355.90 143.65L356.40 142.95L356.90 142.71L357.40 141.70L357.90 141.00L358.40 140.43L358.90 140.03L359.40 139.77L359.90 138.79L360.40 137.58L360.90 136.87L361.40 136.28L361.90 135.67L362.40 135.04L362.90 133.78L363.40 133.22L363.90 132.76L364.40 131.42L364.90 130.60L365.40 129.72L365.90 128.31L366.40 127.41L366.90 126.23L367.40 124.99L367.90 124.06L368.40 123.48L368.90 122.79L369.40 121.10L369.90 119.91L370.40 118.73L370.90 117.12L371.40 116.09L371.90 114.74L372.40 113.83L372.90 112.45L373.40 110.03L373.90 108.91L374.40 107.70L374.90 105.78L375.40 103.56L375.90 102.43L376.40 101.98L376.90 100.38L377.40 98.87L377.90 97.54L378.40 95.66L378.90 93.84L379.40 92.02L379.90 90.02L380.40 88.89L380.90 87.45L381.40 85.11L381.90 83.44L382.40 82.09L382.90 80.08L383.40 78.58L383.90 77.02L384.40 74.77L384.90 72.90L385.40 72.18L385.90 70.40L386.40 68.31L386.90 67.27L387.40 65.75L387.90 63.61L388.40 61.74L388.90 60.53L389.40 59.28L389.90 57.51L390.40 55.43L390.90 54.39L391.40 53.55L391.90 51.92L392.40 50.02L392.90 48.63L393.40 47.48L393.90 46.27L394.40 44.60L394.90 43.14L395.40 42.23L395.90 40.70L396.40 39.67L396.90 38.90L397.40 37.67L397.90 36.77L398.40 35.52L398.90 34.48L399.40 34.13L399.90 33.41L400.40 32.82L400.90 31.68L401.40 30.28L401.90 30.06L402.40 30.05L402.90 30.06L403.40 29.64L403.90 28.37L404.40 28.07L404.90 27.77L405.40 26.88L405.90 27.67L406.40 28.05L406.90 27.44L407.40 27.49L407.90 27.83L408.40 27.85L408.90 27.82L409.40 27.64L409.90 27.15L410.40 28.13L410.90 29.28L411.40 29.40L411.90 29.47L412.40 29.84L412.90 30.08L413.40 31.01L413.90 31.97L414.40 32.29L414.90 32.85L415.40 33.68L415.90 34.42L416.40 35.06L416.90 35.34L417.40 36.04L417.90 37.79L418.40 38.31L418.90 38.49L419.40 39.74L419.90 40.92L420.40 41.72L420.90 41.89L421.40 42.76L421.90 43.80L422.40 44.34L422.90 45.77L423.40 46.86L423.90 47.88L424.40 49.80L424.90 50.75L425.40 51.03L425.90 51.52L426.40 52.10L426.90 53.02L427.40 54.02L427.90 54.99L428.40 55.93L428.90 57.16L429.40 58.04L429.90 58.67L430.40 59.55L430.90 61.06L431.40 62.44L431.90 63.58L432.40 64.84L432.90 65.44L433.40 66.32L433.90 66.99L434.40 68.43L434.90 70.16L435.40 70.44L435.90 70.77L436.40 71.92L436.90 72.72L437.40 73.38L437.90 75.12L438.40 76.36L438.90 77.01L439.40 78.26L439.90 79.11L440.40 79.93L440.90 81.09L441.40 81.78L441.90 83.06L442.40 84.04L442.90 85.46L443.40 86.60L443.90 87.64L444.40 88.52L444.90 89.15L445.40 90.15L445.90 90.62L446.40 92.03L446.90 93.62L447.40 94.24L447.90 95.41L448.40 96.57L448.90 97.29L449.40 98.64L449.90 99.78L450.40 100.18L450.90 101.48L451.40 103.15L451.90 103.57L452.40 104.12L452.90 104.75L453.40 105.65L453.90 107.26L454.40 108.52L454.90 109.01L455.40 109.92L455.90 111.63L456.40 112.63L456.90 112.96L457.40 114.36L457.90 115.58L458.40 116.12L458.90 116.71L459.40 117.15L459.90 117.87L460.40 119.04L460.90 120.17L461.40 121.25L461.90 122.30L462.40 123.08L462.90 123.80L463.40 124.25L463.90 124.36L464.40 125.27L464.90 126.37L465.40 127.08L465.90 128.01L466.40 128.56L466.90 129.03L467.40 130.05L467.90 131.07L468.40 131.58L468.90 132.34L469.40 133.11L469.90 133.30L470.40 133.99L470.90 135.40L471.40 135.78L471.90 136.15L472.40 137.29L472.90 137.92L473.40 137.83L473.90 138.49L474.40 139.26L474.90 139.10L475.40 139.48L475.90 140.18L476.40 140.71L476.90 140.93L477.40 141.70L477.90 141.96L478.40 141.70L478.90 142.51L479.40 143.38L479.90 143.83L480.40 143.68L480.90 144.01L481.40 144.78L481.90 145.29L482.40 145.11L482.90 144.97L483.40 145.53L483.90 145.29L484.40 145.44L484.90 146.46L485.40 146.78L485.90 146.50L486.40 147.11L486.90 147.81L487.40 148.06L487.90 147.76L488.40 147.66L488.90 148.37L489.40 148.38L489.90 148.05L490.40 148.64L490.90 149.46L491.40 149.05L491.90 148.03L492.40 148.09L492.90 148.67L493.40 149.18L493.90 149.77L494.40 149.88L494.90 149.63L495.40 149.83L495.90 149.86L496.40 149.91L496.90 150.10L497.40 150.96L497.90 151.47L498.40 150.56L498.90 150.13L499.40 150.32L499.90 150.22L500.40 150.21L500.90 150.54L501.40 151.06L501.90 151.22L502.40 150.81L502.90 150.61L503.40 150.56L503.90 150.98L504.40 151.30L504.90 151.69L505.40 151.63L505.90 151.65L506.40 151.95L506.90 151.70L507.40 151.10L507.90 150.78L508.40 151.59L508.90 152.39L509.40 152.28L509.90 152.14L510.40 152.00L510.90 151.71L511.40 151.67L511.90 152.09L512.40 152.40L512.90 152.09L513.40 151.93L513.90 152.18L514.40 152.39L514.90 152.03L515.40 152.45L515.90 152.78L516.40 152.32L516.90 152.69L517.40 153.00L517.90 152.58L518.40 152.47L518.90 152.21L519.40 151.90L519.90 151.59L520.40 152.13L520.90 152.26L521.40 152.12L521.90 152.45L522.40 152.00L522.90 152.19L523.40 152.57L523.90 152.81L524.40 153.26L524.90 153.20L525.40 152.97L525.90 152.71L526.40 152.68L526.90 152.91L527.40 152.59L527.90 152.54L528.40 152.67L528.90 152.77L529.40 152.91L529.90 152.73L530.40 152.42L530.90 152.79L531.40 152.53L531.90 152.16L532.40 153.09L532.90 152.52L533.40 151.90L533.90 152.87L534.40 152.61L534.90 153.17L535.40 152.91L535.90 152.60L536.40 153.78L536.90 153.65L537.40 153.16" fill="none" stroke="#444444" stroke-width="1.50" stroke-linejoin="round" stroke-linecap="round"/>
<path d="M299.40 156.00L299.90 156.00L300.40 156.00L300.90 156.00L301.40 156.00L301.90 156.00L302.40 156.00L302.90 156.00L303.40 156.00L303.90 156.00L304.40 156.00L304.90 156.00L305.40 156.00L305.90 156.00L306.40 156.00L306.90 156.00L307.40 156.00L307.90 156.00L308.40 156.00L308.90 156.00L309.40 156.00L309.90 156.00L310.40 156.00L310.90 156.00L311.40 156.00L311.90 156.00L312.40 156.00L312.90 156.00L313.40 156.00L313.90 156.00L314.40 156.00L314.90 156.00L315.40 156.00L315.90 156.00L316.40 156.00L316.90 156.00L317.40 156.00L317.90 156.00L318.40 156.00L318.90 156.00L319.40 156.00L319.90 156.00L320.40 156.00L320.90 156.00L321.40 156.00L321.90 156.00L322.40 156.00L322.90 156.00L323.40 156.00L323.90 156.00L324.40 156.00L324.90 156.00L325.40 156.00L325.90 156.00L326.40 156.00L326.90 156.00L327.40 156.00L327.90 156.00L328.40 156.00L328.90 156.00L329.40 156.00L329.90 156.00L330.40 156.00L330.90 156.00L331.40 156.00L331.90 156.00L332.40 156.00L332.90 156.00L333.40 156.00L333.90 156.00L334.40 156.00L334.90 156.00L335.40 156.00L335.90 156.00L336.40 156.00L336.90 156.00L337.40 156.00L337.90 156.00L338.40 156.00L338.90 156.00L339.40 156.00L339.90 156.00L340.40 156.00L340.90 156.00L341.40 156.00L341.90 156.00L342.40 156.00L342.90 156.00L343.40 156.00L343.90 156.00L344.40 156.00L344.90 156.00L345.40 156.00L345.90 156.00L346.40 156.00L346.90 156.00L347.40 156.00L347.90 156.00L348.40 156.00L348.90 156.00L349.40 156.00L349.90 156.00L350.40 156.00L350.90 156.00L351.40 156.00L351.90 156.00L352.40 156.00L352.90 156.00L353.40 156.00L353.90 156.00L354.40 156.00L354.90 156.00L355.40 156.00L355.90 156.00L356.40 156.00L356.90 156.00L357.40 156.00L357.90 156.00L358.40 156.00L358.90 156.00L359.40 156.00L359.90 156.00L360.40 156.00L360.90 156.00L361.40 156.00L361.90 156.00L362.40 156.00L362.90 156.00L363.40 156.00L363.90 156.00L364.40 156.00L364.90 156.00L365.40 156.00L365.90 156.00L366.40 156.00L366.90 156.00L367.40 156.00L367.90 156.00L368.40 156.00L368.90 156.00L369.40 156.00L369.90 156.00L370.40 156.00L370.90 156.00L371.40 156.00L371.90 156.00L372.40 156.00L372.90 156.00L373.40 156.00L373.90 156.00L374.40 156.00L374.90 156.00L375.40 156.00L375.90 156.00L376.40 156.00L376.90 156.00L377.40 156.00L377.90 156.00L378.40 156.00L378.90 156.00L379.40 156.00L379.90 156.00L380.40 156.00L380.90 156.00L381.40 156.00L381.90 156.00L382.40 156.00L382.90 156.00L383.40 156.00L383.90 156.00L384.40 156.00L384.90 156.00L385.40 156.00L385.90 156.00L386.40 156.00L386.90 156.00L387.40 156.00L387.90 156.00L388.40 156.00L388.90 156.00L389.40 156.00L389.90 156.00L390.40 156.00L390.90 156.00L391.40 156.00L391.90 156.00L392.40 156.00L392.90 156.00L393.40 156.00L393.90 156.00L394.40 156.00L394.90 156.00L395.40 156.00L395.90 156.00L396.40 156.00L396.90 156.00L397.40 156.00L397.90 156.00L398.40 156.00L398.90 156.00L399.40 156.00L399.90 156.00L400.40 156.00L400.90 156.00L401.40 156.00L401.90 156.00L402.40 156.00L402.90 156.00L403.40 156.00L403.90 156.00L404.40 156.00L404.90 156.00L405.40 156.00L405.90 156.00L406.40 156.00L406.90 156.00L407.40 156.00L407.90 156.00L408.40 156.00L408.90 156.00L409.40 156.00L409.90 156.00L410.40 156.00L410.90 156.00L411.40 156.00L411.90 156.00L412.40 156.00L412.90 156.00L413.40 156.00L413.90 156.00L414.40 156.00L414.90 156.00L415.40 156.00L415.90 156.00L416.40 156.00L416.90 156.00L417.40 156.00L417.90 156.00L418.40 156.00L418.90 156.00L419.40 156.00L419.90 156.00L420.40 156.00L420.90 156.00L421.40 156.00L421.90 156.00L422.40 156.00L422.90 156.00L423.40 156.00L423.90 156.00L424.40 156.00L424.90 156.00L425.40 156.00L425.90 156.00L426.40 156.00L426.90 156.00L427.40 156.00L427.90 156.00L428.40 156.00L428.90 156.00L429.40 156.00L429.90 156.00L430.40 156.00L430.90 156.00L431.40 156.00L431.90 156.00L432.40 156.00L432.90 156.00L433.40 156.00L433.90 156.00L434.40 156.00L434.90 156.00L435.40 156.00L435.90 156.00L436.40 156.00L436.90 156.00L437.40 156.00L437.90 156.00L438.40 156.00L438.90 156.00L439.40 156.00L439.90 156.00L440.40 156.00L440.90 156.00L441.40 156.00L441.90 156.00L442.40 156.00L442.90 156.00L443.40 156.00L443.90 156.00L444.40 156.00L444.90 156.00L445.40 156.00L445.90 156.00L446.40 156.00L446.90 156.00L447.40 156.00L447.90 156.00L448.40 156.00L448.90 156.00L449.40 156.00L449.90 156.00L450.40 156.00L450.90 156.00L451.40 156.00L451.90 156.00L452.40 156.00L452.90 156.00L453.40 156.00L453.90 156.00L454.40 156.00L454.90 156.00L455.40 156.00L455.90 156.00L456.40 156.00L456.90 156.00L457.40 156.00L457.90 156.00L458.40 156.00L458.90 156.00L459.40 156.00L459.90 156.00L460.40 156.00L460.90 156.00L461.40 156.00L461.90 156.00L462.40 156.00L462.90 156.00L463.40 156.00L463.90 156.00L464.40 156.00L464.90 156.00L465.40 156.00L465.90 156.00L466.40 156.00L466.90 156.00L467.40 156.00L467.90 156.00L468.40 156.00L468.90 156.00L469.40 156.00L469.90 156.00L470.40 156.00L470.90 156.00L471.40 156.00L471.90 156.00L472.40 156.00L472.90 156.00L473.40 156.00L473.90 156.00L474.40 156.00L474.90 156.00L475.40 156.00L475.90 156.00L476.40 156.00L476.90 156.00L477.40 156.00L477.90 156.00L478.40 156.00L478.90 156.00L479.40 156.00L479.90 156.00L480.40 156.00L480.90 156.00L481.40 156.00L481.90 156.00L482.40 156.00L482.90 156.00L483.40 156.00L483.90 156.00L484.40 156.00L484.90 156.00L485.40 156.00L485.90 156.00L486.40 156.00L486.90 156.00L487.40 156.00L487.90 156.00L488.40 156.00L488.90 156.00L489.40 156.00L489.90 156.00L490.40 156.00L490.90 156.00L491.40 156.00L491.90 156.00L492.40 156.00L492.90 156.00L493.40 156.00L493.90 156.00L494.40 156.00L494.90 156.00L495.40 156.00L495.90 156.00L496.40 156.00L496.90 156.00L497.40 156.00L497.90 156.00L498.40 156.00L498.90 156.00L499.40 156.00L499.90 156.00L500.40 156.00L500.90 156.00L501.40 156.00L501.90 156.00L502.40 156.00L502.90 156.00L503.40 156.00L503.90 156.00L504.40 156.00L504.90 156.00L505.40 156.00L505.90 156.00L506.40 156.00L506.90 156.00L507.40 156.00L507.90 156.00L508.40 156.00L508.90 156.00L509.40 156.00L509.90 156.00L510.40 156.00L510.90 156.00L511.40 156.00L511.90 156.00L512.40 156.00L512.90 156.00L513.40 156.00L513.90 156.00L514.40 156.00L514.90 156.00L515.40 156.00L515.90 156.00L516.40 156.00L516.90 156.00L517.40 156.00L517.90 156.00L518.40 156.00L518.90 156.00L519.40 156.00L519.90 156.00L520.40 156.00L520.90 156.00L521.40 156.00L521.90 156.00L522.40 156.00L522.90 156.00L523.40 156.00L523.90 156.00L524.40 156.00L524.90 156.00L525.40 156.00L525.90 156.00L526.40 156.00L526.90 156.00L527.40 156.00L527.90 156.00L528.40 156.00L528.90 156.00L529.40 156.00L529.90 156.00L530.40 156.00L530.90 156.00L531.40 156.00L531.90 156.00L532.40 156.00L532.90 156.00L533.40 156.00L533.90 156.00L534.40 156.00L534.90 156.00L535.40 156.00L535.90 156.00L536.40 156.00L536.90 156.00L537.40 156.00" fill="none" stroke="#13a862" stroke-width="2.00" stroke-linejoin="round" stroke-linecap="round"/>
<path d="M299.40 153.95L299.90 153.95L300.40 153.94L300.90 153.94L301.40 153.94L301.90 153.94L302.40 153.94L302.90 153.94L303.40 153.94L303.90 153.93L304.40 153.93L304.90 153.93L305.40 153.93L305.90 153.93L306.40 153.93L306.90 153.92L307.40 153.92L307.90 153.92L308.40 153.92L308.90 153.92L309.40 153.92L309.90 153.91L310.40 153.91L310.90 153.91L311.40 153.91L311.90 153.91L312.40 153.91L312.90 153.90L313.40 153.90L313.90 153.90L314.40 153.90L314.90 153.90L315.40 153.89L315.90 153.89L316.40 153.89L316.90 153.89L317.40 153.89L317.90 153.88L318.40 153.88L318.90 153.88L319.40 153.88L319.90 153.88L320.40 153.87L320.90 153.87L321.40 153.87L321.90 153.87L322.40 153.86L322.90 153.86L323.40 153.86L323.90 153.86L324.40 153.86L324.90 153.85L325.40 153.85L325.90 153.85L326.40 153.85L326.90 153.84L327.40 153.84L327.90 153.84L328.40 153.84L328.90 153.83L329.40 153.83L329.90 153.83L330.40 153.82L330.90 153.82L331.40 153.82L331.90 153.82L332.40 153.81L332.90 153.81L333.40 153.81L333.90 153.80L334.40 153.80L334.90 153.80L335.40 153.79L335.90 153.79L336.40 153.79L336.90 153.78L337.40 153.78L337.90 153.78L338.40 153.77L338.90 153.77L339.40 153.77L339.90 153.76L340.40 153.76L340.90 153.76L341.40 153.75L341.90 153.75L342.40 153.74L342.90 153.74L343.40 153.74L343.90 153.73L344.40 153.73L344.90 153.72L345.40 153.72L345.90 153.71L346.40 153.71L346.90 153.71L347.40 153.70L347.90 153.70L348.40 153.69L348.90 153.69L349.40 153.68L349.90 153.68L350.40 153.67L350.90 153.67L351.40 153.66L351.90 153.65L352.40 153.65L352.90 153.64L353.40 153.64L353.90 153.63L354.40 153.62L354.90 153.62L355.40 153.61L355.90 153.60L356.40 153.60L356.90 153.59L357.40 153.58L357.90 153.57L358.40 153.56L358.90 153.56L359.40 153.55L359.90 153.54L360.40 153.53L360.90 153.52L361.40 153.51L361.90 153.50L362.40 153.49L362.90 153.48L363.40 153.47L363.90 153.45L364.40 153.44L364.90 153.43L365.40 153.41L365.90 153.40L366.40 153.38L366.90 153.37L367.40 153.35L367.90 153.33L368.40 153.32L368.90 153.30L369.40 153.28L369.90 153.26L370.40 153.24L370.90 153.21L371.40 153.19L371.90 153.16L372.40 153.14L372.90 153.11L373.40 153.08L373.90 153.05L374.40 153.02L374.90 152.98L375.40 152.95L375.90 152.91L376.40 152.87L376.90 152.83L377.40 152.79L377.90 152.74L378.40 152.70L378.90 152.65L379.40 152.59L379.90 152.54L380.40 152.48L380.90 152.42L381.40 152.35L381.90 152.29L382.40 152.22L382.90 152.14L383.40 152.07L383.90 151.98L384.40 151.90L384.90 151.81L385.40 151.72L385.90 151.62L386.40 151.52L386.90 151.41L387.40 151.30L387.90 151.18L388.40 151.06L388.90 150.93L389.40 150.80L389.90 150.66L390.40 150.51L390.90 150.36L391.40 150.21L391.90 150.04L392.40 149.87L392.90 149.69L393.40 149.51L393.90 149.32L394.40 149.12L394.90 148.91L395.40 148.70L395.90 148.47L396.40 148.24L396.90 148.00L397.40 147.75L397.90 147.50L398.40 147.23L398.90 146.96L399.40 146.68L399.90 146.38L400.40 146.08L400.90 145.77L401.40 145.45L401.90 145.12L402.40 144.78L402.90 144.43L403.40 144.07L403.90 143.70L404.40 143.32L404.90 142.93L405.40 142.54L405.90 142.13L406.40 141.71L406.90 141.28L407.40 140.84L407.90 140.40L408.40 139.94L408.90 139.47L409.40 139.00L409.90 138.51L410.40 138.02L410.90 137.52L411.40 137.01L411.90 136.49L412.40 135.96L412.90 135.43L413.40 134.89L413.90 134.34L414.40 133.79L414.90 133.23L415.40 132.66L415.90 132.09L416.40 131.51L416.90 130.93L417.40 130.34L417.90 129.75L418.40 129.16L418.90 128.57L419.40 127.97L419.90 127.37L420.40 126.77L420.90 126.18L421.40 125.58L421.90 124.98L422.40 124.39L422.90 123.80L423.40 123.21L423.90 122.62L424.40 122.04L424.90 121.47L425.40 120.90L425.90 120.34L426.40 119.79L426.90 119.24L427.40 118.71L427.90 118.18L428.40 117.67L428.90 117.16L429.40 116.67L429.90 116.20L430.40 115.74L430.90 115.29L431.40 114.86L431.90 114.44L432.40 114.04L432.90 113.66L433.40 113.30L433.90 112.96L434.40 112.64L434.90 112.34L435.40 112.06L435.90 111.80L436.40 111.56L436.90 111.35L437.40 111.16L437.90 110.99L438.40 110.85L438.90 110.74L439.40 110.64L439.90 110.58L440.40 110.53L440.90 110.52L441.40 110.52L441.90 110.56L442.40 110.61L442.90 110.70L443.40 110.80L443.90 110.94L444.40 111.09L444.90 111.27L445.40 111.48L445.90 111.70L446.40 111.95L446.90 112.22L447.40 112.52L447.90 112.83L448.40 113.16L448.90 113.52L449.40 113.89L449.90 114.28L450.40 114.69L450.90 115.11L451.40 115.55L451.90 116.01L452.40 116.48L452.90 116.97L453.40 117.46L453.90 117.97L454.40 118.49L454.90 119.03L455.40 119.57L455.90 120.12L456.40 120.67L456.90 121.24L457.40 121.81L457.90 122.39L458.40 122.97L458.90 123.56L459.40 124.15L459.90 124.74L460.40 125.34L460.90 125.94L461.40 126.54L461.90 127.13L462.40 127.73L462.90 128.33L463.40 128.92L463.90 129.52L464.40 130.11L464.90 130.69L465.40 131.28L465.90 131.86L466.40 132.43L466.90 133.00L467.40 133.56L467.90 134.12L468.40 134.67L468.90 135.21L469.40 135.75L469.90 136.28L470.40 136.80L470.90 137.32L471.40 137.82L471.90 138.32L472.40 138.80L472.90 139.28L473.40 139.75L473.90 140.21L474.40 140.66L474.90 141.11L475.40 141.54L475.90 141.96L476.40 142.37L476.90 142.78L477.40 143.17L477.90 143.55L478.40 143.92L478.90 144.29L479.40 144.64L479.90 144.98L480.40 145.32L480.90 145.64L481.40 145.96L481.90 146.26L482.40 146.56L482.90 146.85L483.40 147.12L483.90 147.39L484.40 147.65L484.90 147.90L485.40 148.15L485.90 148.38L486.40 148.61L486.90 148.83L487.40 149.04L487.90 149.24L488.40 149.43L488.90 149.62L489.40 149.80L489.90 149.97L490.40 150.14L490.90 150.30L491.40 150.45L491.90 150.60L492.40 150.74L492.90 150.88L493.40 151.01L493.90 151.13L494.40 151.25L494.90 151.37L495.40 151.47L495.90 151.58L496.40 151.68L496.90 151.77L497.40 151.86L497.90 151.95L498.40 152.03L498.90 152.11L499.40 152.19L499.90 152.26L500.40 152.33L500.90 152.39L501.40 152.46L501.90 152.51L502.40 152.57L502.90 152.62L503.40 152.68L503.90 152.72L504.40 152.77L504.90 152.81L505.40 152.86L505.90 152.90L506.40 152.93L506.90 152.97L507.40 153.00L507.90 153.04L508.40 153.07L508.90 153.10L509.40 153.13L509.90 153.15L510.40 153.18L510.90 153.20L511.40 153.23L511.90 153.25L512.40 153.27L512.90 153.29L513.40 153.31L513.90 153.33L514.40 153.35L514.90 153.36L515.40 153.38L515.90 153.39L516.40 153.41L516.90 153.42L517.40 153.44L517.90 153.45L518.40 153.46L518.90 153.47L519.40 153.48L519.90 153.49L520.40 153.51L520.90 153.52L521.40 153.53L521.90 153.54L522.40 153.54L522.90 153.55L523.40 153.56L523.90 153.57L524.40 153.58L524.90 153.59L525.40 153.59L525.90 153.60L526.40 153.61L526.90 153.61L527.40 153.62L527.90 153.63L528.40 153.63L528.90 153.64L529.40 153.65L529.90 153.65L530.40 153.66L530.90 153.66L531.40 153.67L531.90 153.67L532.40 153.68L532.90 153.68L533.40 153.69L533.90 153.69L534.40 153.70L534.90 153.70L535.40 153.71L535.90 153.71L536.40 153.72L536.90 153.72L537.40 153.73" fill="none" stroke="#1a64dc" stroke-width="2.00" stroke-linejoin="round" stroke-linecap="round"/>
<path d="M299.40 153.94L299.90 153.93L300.40 153.93L300.90 153.93L301.40 153.93L301.90 153.92L302.40 153.92L302.90 153.92L303.40 153.92L303.90 153.91L304.40 153.91L304.90 153.91L305.40 153.91L305.90 153.90L306.40 153.90L306.90 153.90L307.40 153.89L307.90 153.89L308.40 153.89L308.90 153.88L309.40 153.88L309.90 153.87L310.40 153.87L310.90 153.87L311.40 153.86L311.90 153.86L312.40 153.85L312.90 153.85L313.40 153.84L313.90 153.83L314.40 153.83L314.90 153.82L315.40 153.81L315.90 153.81L316.40 153.80L316.90 153.79L317.40 153.78L317.90 153.77L318.40 153.76L318.90 153.75L319.40 153.74L319.90 153.73L320.40 153.72L320.90 153.71L321.40 153.69L321.90 153.68L322.40 153.66L322.90 153.64L323.40 153.63L323.90 153.61L324.40 153.59L324.90 153.57L325.40 153.54L325.90 153.52L326.40 153.49L326.90 153.47L327.40 153.44L327.90 153.41L328.40 153.37L328.90 153.34L329.40 153.30L329.90 153.26L330.40 153.22L330.90 153.17L331.40 153.13L331.90 153.08L332.40 153.02L332.90 152.97L333.40 152.91L333.90 152.84L334.40 152.77L334.90 152.70L335.40 152.62L335.90 152.54L336.40 152.46L336.90 152.37L337.40 152.27L337.90 152.17L338.40 152.06L338.90 151.95L339.40 151.83L339.90 151.70L340.40 151.57L340.90 151.43L341.40 151.28L341.90 151.12L342.40 150.95L342.90 150.78L343.40 150.60L343.90 150.40L344.40 150.20L344.90 149.99L345.40 149.76L345.90 149.53L346.40 149.28L346.90 149.03L347.40 148.75L347.90 148.47L348.40 148.17L348.90 147.86L349.40 147.54L349.90 147.20L350.40 146.84L350.90 146.47L351.40 146.08L351.90 145.68L352.40 145.26L352.90 144.82L353.40 144.36L353.90 143.89L354.40 143.39L354.90 142.88L355.40 142.34L355.90 141.79L356.40 141.21L356.90 140.62L357.40 140.00L357.90 139.36L358.40 138.69L358.90 138.01L359.40 137.30L359.90 136.56L360.40 135.80L360.90 135.02L361.40 134.22L361.90 133.38L362.40 132.53L362.90 131.65L363.40 130.74L363.90 129.80L364.40 128.84L364.90 127.86L365.40 126.85L365.90 125.81L366.40 124.75L366.90 123.66L367.40 122.55L367.90 121.41L368.40 120.24L368.90 119.05L369.40 117.83L369.90 116.60L370.40 115.33L370.90 114.04L371.40 112.73L371.90 111.40L372.40 110.05L372.90 108.67L373.40 107.27L373.90 105.86L374.40 104.42L374.90 102.97L375.40 101.49L375.90 100.01L376.40 98.50L376.90 96.98L377.40 95.45L377.90 93.91L378.40 92.36L378.90 90.80L379.40 89.22L379.90 87.65L380.40 86.06L380.90 84.48L381.40 82.89L381.90 81.30L382.40 79.71L382.90 78.12L383.40 76.54L383.90 74.96L384.40 73.39L384.90 71.83L385.40 70.28L385.90 68.74L386.40 67.21L386.90 65.71L387.40 64.22L387.90 62.75L388.40 61.30L388.90 59.87L389.40 58.47L389.90 57.10L390.40 55.75L390.90 54.44L391.40 53.16L391.90 51.91L392.40 50.70L392.90 49.53L393.40 48.39L393.90 47.30L394.40 46.25L394.90 45.24L395.40 44.28L395.90 43.36L396.40 42.50L396.90 41.68L397.40 40.91L397.90 40.20L398.40 39.53L398.90 38.93L399.40 38.37L399.90 37.88L400.40 37.44L400.90 37.05L401.40 36.73L401.90 36.46L402.40 36.25L402.90 36.10L403.40 36.01L403.90 35.98L404.40 36.02L404.90 36.12L405.40 36.28L405.90 36.51L406.40 36.81L406.90 37.17L407.40 37.59L407.90 38.07L408.40 38.62L408.90 39.22L409.40 39.89L409.90 40.61L410.40 41.39L410.90 42.21L411.40 43.10L411.90 44.03L412.40 45.01L412.90 46.03L413.40 47.10L413.90 48.21L414.40 49.36L414.90 50.55L415.40 51.77L415.90 53.03L416.40 54.32L416.90 55.64L417.40 56.98L417.90 58.35L418.40 59.74L418.90 61.16L419.40 62.59L419.90 64.04L420.40 65.51L420.90 66.98L421.40 68.47L421.90 69.97L422.40 71.48L422.90 72.99L423.40 74.51L423.90 76.03L424.40 77.55L424.90 79.08L425.40 80.60L425.90 82.11L426.40 83.63L426.90 85.13L427.40 86.63L427.90 88.13L428.40 89.61L428.90 91.08L429.40 92.54L429.90 93.99L430.40 95.43L430.90 96.85L431.40 98.25L431.90 99.64L432.40 101.02L432.90 102.37L433.40 103.71L433.90 105.03L434.40 106.32L434.90 107.60L435.40 108.86L435.90 110.10L436.40 111.32L436.90 112.51L437.40 113.68L437.90 114.83L438.40 115.96L438.90 117.07L439.40 118.15L439.90 119.21L440.40 120.24L440.90 121.26L441.40 122.25L441.90 123.21L442.40 124.16L442.90 125.08L443.40 125.98L443.90 126.85L444.40 127.70L444.90 128.53L445.40 129.34L445.90 130.12L446.40 130.89L446.90 131.63L447.40 132.35L447.90 133.05L448.40 133.72L448.90 134.38L449.40 135.02L449.90 135.63L450.40 136.23L450.90 136.81L451.40 137.37L451.90 137.91L452.40 138.44L452.90 138.94L453.40 139.43L453.90 139.90L454.40 140.36L454.90 140.80L455.40 141.22L455.90 141.63L456.40 142.03L456.90 142.40L457.40 142.77L457.90 143.12L458.40 143.46L458.90 143.79L459.40 144.10L459.90 144.41L460.40 144.70L460.90 144.98L461.40 145.24L461.90 145.50L462.40 145.75L462.90 145.99L463.40 146.22L463.90 146.44L464.40 146.65L464.90 146.85L465.40 147.05L465.90 147.23L466.40 147.41L466.90 147.59L467.40 147.75L467.90 147.91L468.40 148.06L468.90 148.21L469.40 148.35L469.90 148.49L470.40 148.62L470.90 148.74L471.40 148.86L471.90 148.98L472.40 149.09L472.90 149.19L473.40 149.29L473.90 149.39L474.40 149.49L474.90 149.58L475.40 149.67L475.90 149.75L476.40 149.83L476.90 149.91L477.40 149.99L477.90 150.06L478.40 150.13L478.90 150.20L479.40 150.26L479.90 150.32L480.40 150.39L480.90 150.44L481.40 150.50L481.90 150.56L482.40 150.61L482.90 150.66L483.40 150.71L483.90 150.76L484.40 150.81L484.90 150.86L485.40 150.90L485.90 150.94L486.40 150.99L486.90 151.03L487.40 151.07L487.90 151.11L488.40 151.14L488.90 151.18L489.40 151.22L489.90 151.25L490.40 151.29L490.90 151.32L491.40 151.35L491.90 151.39L492.40 151.42L492.90 151.45L493.40 151.48L493.90 151.51L494.40 151.54L494.90 151.56L495.40 151.59L495.90 151.62L496.40 151.65L496.90 151.67L497.40 151.70L497.90 151.72L498.40 151.75L498.90 151.77L499.40 151.80L499.90 151.82L500.40 151.84L500.90 151.87L501.40 151.89L501.90 151.91L502.40 151.93L502.90 151.95L503.40 151.97L503.90 151.99L504.40 152.01L504.90 152.03L505.40 152.05L505.90 152.07L506.40 152.09L506.90 152.11L507.40 152.13L507.90 152.15L508.40 152.17L508.90 152.18L509.40 152.20L509.90 152.22L510.40 152.24L510.90 152.25L511.40 152.27L511.90 152.29L512.40 152.30L512.90 152.32L513.40 152.34L513.90 152.35L514.40 152.37L514.90 152.38L515.40 152.40L515.90 152.41L516.40 152.43L516.90 152.44L517.40 152.45L517.90 152.47L518.40 152.48L518.90 152.50L519.40 152.51L519.90 152.52L520.40 152.54L520.90 152.55L521.40 152.56L521.90 152.58L522.40 152.59L522.90 152.60L523.40 152.61L523.90 152.63L524.40 152.64L524.90 152.65L525.40 152.66L525.90 152.67L526.40 152.68L526.90 152.70L527.40 152.71L527.90 152.72L528.40 152.73L528.90 152.74L529.40 152.75L529.90 152.76L530.40 152.77L530.90 152.78L531.40 152.79L531.90 152.80L532.40 152.81L532.90 152.82L533.40 152.83L533.90 152.84L534.40 152.85L534.90 152.86L535.40 152.87L535.90 152.88L536.40 152.89L536.90 152.90L537.40 152.91" fill="none" stroke="#f22a2a" stroke-width="2.00" stroke-linejoin="round" stroke-linecap="round"/>
<path d="M299.40 153.59L299.90 153.58L300.40 153.58L300.90 153.58L301.40 153.57L301.90 153.57L302.40 153.57L302.90 153.56L303.40 153.56L303.90 153.55L304.40 153.55L304.90 153.54L305.40 153.54L305.90 153.54L306.40 153.53L306.90 153.53L307.40 153.52L307.90 153.52L308.40 153.51L308.90 153.51L309.40 153.50L309.90 153.49L310.40 153.49L310.90 153.48L311.40 153.48L311.90 153.47L312.40 153.46L312.90 153.46L313.40 153.45L313.90 153.44L314.40 153.43L314.90 153.42L315.40 153.42L315.90 153.41L316.40 153.40L316.90 153.39L317.40 153.38L317.90 153.37L318.40 153.35L318.90 153.34L319.40 153.33L319.90 153.31L320.40 153.30L320.90 153.29L321.40 153.27L321.90 153.25L322.40 153.24L322.90 153.22L323.40 153.20L323.90 153.18L324.40 153.15L324.90 153.13L325.40 153.11L325.90 153.08L326.40 153.05L326.90 153.02L327.40 152.99L327.90 152.96L328.40 152.92L328.90 152.89L329.40 152.85L329.90 152.80L330.40 152.76L330.90 152.71L331.40 152.66L331.90 152.61L332.40 152.55L332.90 152.50L333.40 152.43L333.90 152.37L334.40 152.30L334.90 152.22L335.40 152.14L335.90 152.06L336.40 151.97L336.90 151.88L337.40 151.78L337.90 151.68L338.40 151.57L338.90 151.45L339.40 151.33L339.90 151.20L340.40 151.07L340.90 150.93L341.40 150.77L341.90 150.62L342.40 150.45L342.90 150.27L343.40 150.09L343.90 149.90L344.40 149.69L344.90 149.48L345.40 149.25L345.90 149.02L346.40 148.77L346.90 148.51L347.40 148.24L347.90 147.96L348.40 147.66L348.90 147.35L349.40 147.02L349.90 146.68L350.40 146.33L350.90 145.96L351.40 145.57L351.90 145.16L352.40 144.74L352.90 144.31L353.40 143.85L353.90 143.38L354.40 142.88L354.90 142.37L355.40 141.84L355.90 141.28L356.40 140.71L356.90 140.11L357.40 139.50L357.90 138.86L358.40 138.20L358.90 137.51L359.40 136.80L359.90 136.07L360.40 135.32L360.90 134.54L361.40 133.73L361.90 132.90L362.40 132.05L362.90 131.17L363.40 130.26L363.90 129.33L364.40 128.37L364.90 127.39L365.40 126.38L365.90 125.34L366.40 124.28L366.90 123.19L367.40 122.08L367.90 120.94L368.40 119.78L368.90 118.58L369.40 117.37L369.90 116.13L370.40 114.86L370.90 113.57L371.40 112.25L371.90 110.92L372.40 109.56L372.90 108.17L373.40 106.77L373.90 105.34L374.40 103.90L374.90 102.43L375.40 100.95L375.90 99.44L376.40 97.92L376.90 96.39L377.40 94.84L377.90 93.27L378.40 91.70L378.90 90.11L379.40 88.51L379.90 86.90L380.40 85.28L380.90 83.66L381.40 82.03L381.90 80.40L382.40 78.76L382.90 77.13L383.40 75.49L383.90 73.85L384.40 72.22L384.90 70.60L385.40 68.98L385.90 67.36L386.40 65.76L386.90 64.17L387.40 62.59L387.90 61.03L388.40 59.48L388.90 57.95L389.40 56.44L389.90 54.95L390.40 53.48L390.90 52.04L391.40 50.62L391.90 49.23L392.40 47.87L392.90 46.53L393.40 45.23L393.90 43.97L394.40 42.73L394.90 41.53L395.40 40.37L395.90 39.25L396.40 38.17L396.90 37.12L397.40 36.12L397.90 35.16L398.40 34.25L398.90 33.38L399.40 32.55L399.90 31.77L400.40 31.04L400.90 30.35L401.40 29.71L401.90 29.12L402.40 28.58L402.90 28.08L403.40 27.64L403.90 27.24L404.40 26.90L404.90 26.61L405.40 26.38L405.90 26.20L406.40 26.08L406.90 26.00L407.40 25.99L407.90 26.02L408.40 26.10L408.90 26.24L409.40 26.42L409.90 26.65L410.40 26.92L410.90 27.24L411.40 27.60L411.90 28.01L412.40 28.45L412.90 28.93L413.40 29.44L413.90 29.99L414.40 30.58L414.90 31.19L415.40 31.83L415.90 32.50L416.40 33.20L416.90 33.92L417.40 34.66L417.90 35.43L418.40 36.21L418.90 37.01L419.40 37.83L419.90 38.67L420.40 39.51L420.90 40.38L421.40 41.25L421.90 42.13L422.40 43.03L422.90 43.93L423.40 44.84L423.90 45.76L424.40 46.68L424.90 47.61L425.40 48.54L425.90 49.48L426.40 50.42L426.90 51.37L427.40 52.31L427.90 53.26L428.40 54.21L428.90 55.16L429.40 56.11L429.90 57.07L430.40 58.02L430.90 58.98L431.40 59.93L431.90 60.89L432.40 61.85L432.90 62.80L433.40 63.76L433.90 64.72L434.40 65.68L434.90 66.64L435.40 67.60L435.90 68.56L436.40 69.53L436.90 70.49L437.40 71.46L437.90 72.43L438.40 73.40L438.90 74.37L439.40 75.34L439.90 76.32L440.40 77.30L440.90 78.28L441.40 79.26L441.90 80.25L442.40 81.23L442.90 82.22L443.40 83.21L443.90 84.21L444.40 85.20L444.90 86.19L445.40 87.19L445.90 88.19L446.40 89.19L446.90 90.19L447.40 91.19L447.90 92.19L448.40 93.19L448.90 94.18L449.40 95.18L449.90 96.18L450.40 97.17L450.90 98.16L451.40 99.15L451.90 100.14L452.40 101.12L452.90 102.10L453.40 103.08L453.90 104.05L454.40 105.01L454.90 105.98L455.40 106.93L455.90 107.88L456.40 108.82L456.90 109.76L457.40 110.68L457.90 111.61L458.40 112.52L458.90 113.42L459.40 114.32L459.90 115.21L460.40 116.08L460.90 116.95L461.40 117.81L461.90 118.66L462.40 119.50L462.90 120.32L463.40 121.14L463.90 121.95L464.40 122.74L464.90 123.52L465.40 124.29L465.90 125.05L466.40 125.80L466.90 126.53L467.40 127.26L467.90 127.97L468.40 128.66L468.90 129.35L469.40 130.02L469.90 130.68L470.40 131.32L470.90 131.96L471.40 132.58L471.90 133.18L472.40 133.78L472.90 134.36L473.40 134.92L473.90 135.48L474.40 136.02L474.90 136.55L475.40 137.06L475.90 137.56L476.40 138.05L476.90 138.53L477.40 138.99L477.90 139.45L478.40 139.89L478.90 140.31L479.40 140.73L479.90 141.13L480.40 141.52L480.90 141.90L481.40 142.27L481.90 142.63L482.40 142.98L482.90 143.31L483.40 143.64L483.90 143.95L484.40 144.26L484.90 144.55L485.40 144.84L485.90 145.11L486.40 145.38L486.90 145.64L487.40 145.89L487.90 146.12L488.40 146.36L488.90 146.58L489.40 146.79L489.90 147.00L490.40 147.20L490.90 147.39L491.40 147.58L491.90 147.75L492.40 147.93L492.90 148.09L493.40 148.25L493.90 148.40L494.40 148.55L494.90 148.69L495.40 148.82L495.90 148.95L496.40 149.08L496.90 149.20L497.40 149.31L497.90 149.43L498.40 149.53L498.90 149.63L499.40 149.73L499.90 149.83L500.40 149.92L500.90 150.01L501.40 150.09L501.90 150.17L502.40 150.25L502.90 150.32L503.40 150.39L503.90 150.46L504.40 150.53L504.90 150.59L505.40 150.65L505.90 150.71L506.40 150.77L506.90 150.82L507.40 150.87L507.90 150.92L508.40 150.97L508.90 151.02L509.40 151.07L509.90 151.11L510.40 151.15L510.90 151.19L511.40 151.23L511.90 151.27L512.40 151.31L512.90 151.34L513.40 151.38L513.90 151.41L514.40 151.44L514.90 151.48L515.40 151.51L515.90 151.54L516.40 151.57L516.90 151.59L517.40 151.62L517.90 151.65L518.40 151.67L518.90 151.70L519.40 151.72L519.90 151.75L520.40 151.77L520.90 151.79L521.40 151.82L521.90 151.84L522.40 151.86L522.90 151.88L523.40 151.90L523.90 151.92L524.40 151.94L524.90 151.96L525.40 151.98L525.90 152.00L526.40 152.02L526.90 152.04L527.40 152.05L527.90 152.07L528.40 152.09L528.90 152.10L529.40 152.12L529.90 152.14L530.40 152.15L530.90 152.17L531.40 152.18L531.90 152.20L532.40 152.22L532.90 152.23L533.40 152.24L533.90 152.26L534.40 152.27L534.90 152.29L535.40 152.30L535.90 152.32L536.40 152.33L536.90 152.34L537.40 152.36" fill="none" stroke="#b366e6" stroke-width="2.30" stroke-linejoin="round" stroke-linecap="round"/>
<line x1="401.30" y1="35.60" x2="436.14" y2="22.67" stroke="#f22a2a" stroke-width="1.35"/>
<path d="M442.80 20.20 L435.61 25.54 L433.87 20.85 Z" fill="#f22a2a"/>
<line x1="444.80" y1="109.00" x2="464.05" y2="89.83" stroke="#1a64dc" stroke-width="1.30"/>
<path d="M468.80 85.10 L464.61 92.52 L461.37 89.26 Z" fill="#1a64dc"/>
<path d="M27.00 347.74L27.50 347.44L28.00 347.58L28.50 347.64L29.00 347.58L29.50 347.80L30.00 347.93L30.50 347.87L31.00 347.83L31.50 347.55L32.00 347.41L32.50 347.59L33.00 347.45L33.50 347.50L34.00 347.69L34.50 347.07L35.00 346.87L35.50 347.00L36.00 347.22L36.50 347.06L37.00 346.40L37.50 346.46L38.00 347.18L38.50 347.26L39.00 346.80L39.50 346.98L40.00 346.40L40.50 346.43L41.00 347.09L41.50 347.10L42.00 347.14L42.50 347.06L43.00 346.76L43.50 346.71L44.00 346.77L44.50 347.37L45.00 347.34L45.50 346.81L46.00 346.49L46.50 346.18L47.00 346.72L47.50 346.58L48.00 345.86L48.50 346.09L49.00 346.18L49.50 346.71L50.00 346.11L50.50 345.60L51.00 346.42L51.50 345.94L52.00 345.50L52.50 345.87L53.00 346.45L53.50 346.01L54.00 345.03L54.50 345.50L55.00 346.30L55.50 345.86L56.00 344.73L56.50 345.15L57.00 345.64L57.50 345.46L58.00 345.41L58.50 344.89L59.00 344.68L59.50 345.10L60.00 345.52L60.50 344.38L61.00 343.59L61.50 344.56L62.00 344.58L62.50 343.54L63.00 343.47L63.50 343.64L64.00 343.41L64.50 343.08L65.00 342.77L65.50 342.50L66.00 342.37L66.50 341.93L67.00 341.36L67.50 341.12L68.00 341.09L68.50 340.69L69.00 339.68L69.50 339.04L70.00 338.43L70.50 337.74L71.00 336.83L71.50 335.99L72.00 335.08L72.50 333.30L73.00 331.42L73.50 330.17L74.00 328.80L74.50 326.75L75.00 324.27L75.50 321.72L76.00 320.04L76.50 318.44L77.00 316.08L77.50 312.88L78.00 310.19L78.50 307.52L79.00 304.33L79.50 301.49L80.00 297.93L80.50 294.33L81.00 290.58L81.50 287.02L82.00 283.58L82.50 280.41L83.00 277.36L83.50 273.91L84.00 270.41L84.50 266.41L85.00 262.89L85.50 259.49L86.00 256.16L86.50 253.03L87.00 249.34L87.50 246.13L88.00 243.41L88.50 240.43L89.00 237.91L89.50 235.87L90.00 233.05L90.50 230.15L91.00 227.47L91.50 225.55L92.00 224.25L92.50 222.04L93.00 220.77L93.50 220.25L94.00 218.84L94.50 217.61L95.00 216.76L95.50 216.45L96.00 215.82L96.50 215.19L97.00 215.98L97.50 216.00L98.00 215.62L98.50 215.75L99.00 215.66L99.50 216.29L100.00 217.56L100.50 218.35L101.00 219.67L101.50 221.91L102.00 224.00L102.50 225.35L103.00 227.20L103.50 229.89L104.00 233.43L104.50 237.26L105.00 240.59L105.50 243.82L106.00 247.14L106.50 251.42L107.00 255.93L107.50 259.93L108.00 264.28L108.50 269.10L109.00 273.54L109.50 277.46L110.00 281.15L110.50 285.64L111.00 290.46L111.50 294.50L112.00 298.22L112.50 301.80L113.00 305.65L113.50 309.14L114.00 312.07L114.50 314.70L115.00 317.15L115.50 319.91L116.00 322.03L116.50 323.64L117.00 325.66L117.50 327.99L118.00 329.60L118.50 330.97L119.00 332.04L119.50 332.56L120.00 333.11L120.50 333.83L121.00 335.34L121.50 336.22L122.00 336.58L122.50 337.19L123.00 337.42L123.50 337.57L124.00 337.97L124.50 338.55L125.00 338.96L125.50 339.19L126.00 339.37L126.50 339.26L127.00 339.38L127.50 339.55L128.00 340.12L128.50 339.99L129.00 339.84L129.50 341.29L130.00 341.43L130.50 340.60L131.00 340.85L131.50 341.69L132.00 341.80L132.50 341.75L133.00 341.95L133.50 341.81L134.00 342.79L134.50 343.04L135.00 342.11L135.50 342.06L136.00 342.43L136.50 342.78L137.00 342.99L137.50 343.01L138.00 342.48L138.50 342.68L139.00 343.08L139.50 342.92L140.00 342.67L140.50 342.66L141.00 342.94L141.50 343.16L142.00 343.02L142.50 343.11L143.00 343.61L143.50 343.34L144.00 343.18L144.50 343.30L145.00 343.78L145.50 343.35L146.00 343.04L146.50 343.33L147.00 343.34L147.50 344.09L148.00 344.06L148.50 343.90L149.00 343.86L149.50 344.40L150.00 344.92L150.50 344.71L151.00 344.10L151.50 343.49L152.00 344.18L152.50 344.45L153.00 344.08L153.50 344.24L154.00 343.96L154.50 344.09L155.00 344.45L155.50 344.36L156.00 344.17L156.50 344.17L157.00 344.15L157.50 344.26L158.00 344.76L158.50 344.73L159.00 344.53L159.50 344.43L160.00 343.49L160.50 343.51L161.00 344.16L161.50 343.91L162.00 343.86L162.50 343.39L163.00 343.27L163.50 343.79L164.00 344.28L164.50 343.85L165.00 343.12L165.50 343.63L166.00 343.55L166.50 343.64L167.00 343.81L167.50 342.87L168.00 343.03L168.50 343.64L169.00 342.84L169.50 342.67L170.00 342.87L170.50 342.71L171.00 342.53L171.50 341.51L172.00 341.60L172.50 342.14L173.00 342.41L173.50 342.45L174.00 341.86L174.50 341.10L175.00 340.55L175.50 340.32L176.00 340.00L176.50 339.77L177.00 339.04L177.50 338.91L178.00 339.35L178.50 339.75L179.00 339.68L179.50 338.51L180.00 338.14L180.50 337.59L181.00 336.91L181.50 336.36L182.00 336.55L182.50 336.83L183.00 335.65L183.50 335.00L184.00 335.09L184.50 334.71L185.00 333.97L185.50 332.96L186.00 332.00L186.50 331.54L187.00 331.20L187.50 330.09L188.00 328.59L188.50 328.16L189.00 327.15L189.50 325.98L190.00 325.08L190.50 323.71L191.00 322.73L191.50 321.18L192.00 319.32L192.50 317.20L193.00 315.02L193.50 313.62L194.00 312.32L194.50 310.54L195.00 308.68L195.50 306.24L196.00 303.45L196.50 301.41L197.00 299.07L197.50 296.46L198.00 293.82L198.50 291.77L199.00 289.41L199.50 286.93L200.00 284.50L200.50 282.36L201.00 280.20L201.50 277.90L202.00 275.55L202.50 273.06L203.00 271.78L203.50 269.68L204.00 267.45L204.50 265.70L205.00 263.28L205.50 261.84L206.00 261.04L206.50 259.18L207.00 257.85L207.50 256.68L208.00 255.09L208.50 254.28L209.00 253.45L209.50 253.30L210.00 252.37L210.50 251.37L211.00 251.64L211.50 250.55L212.00 249.56L212.50 250.18L213.00 250.53L213.50 250.55L214.00 251.19L214.50 251.26L215.00 251.05L215.50 250.94L216.00 252.01L216.50 253.39L217.00 254.45L217.50 255.99L218.00 256.89L218.50 258.87L219.00 261.31L219.50 262.97L220.00 264.41L220.50 266.30L221.00 268.88L221.50 271.42L222.00 273.93L222.50 276.94L223.00 280.19L223.50 283.11L224.00 285.88L224.50 289.15L225.00 292.36L225.50 294.21L226.00 296.91L226.50 300.54L227.00 303.78L227.50 306.39L228.00 308.60L228.50 310.91L229.00 313.44L229.50 315.61L230.00 317.20L230.50 318.91L231.00 320.86L231.50 322.40L232.00 323.09L232.50 324.59L233.00 325.91L233.50 326.76L234.00 327.88L234.50 328.83L235.00 329.63L235.50 329.67L236.00 329.80L236.50 330.01L237.00 330.90L237.50 331.71L238.00 331.91L238.50 331.95L239.00 331.21L239.50 331.94L240.00 332.74L240.50 332.53L241.00 332.68L241.50 332.98L242.00 333.27L242.50 332.77L243.00 333.07L243.50 333.49L244.00 333.18L244.50 333.93L245.00 334.44L245.50 333.96L246.00 333.28L246.50 333.53L247.00 334.30L247.50 334.33L248.00 333.91L248.50 333.80L249.00 333.88L249.50 334.25L250.00 334.92L250.50 335.22L251.00 334.86L251.50 334.71L252.00 335.14L252.50 335.00L253.00 334.87L253.50 335.68L254.00 335.84L254.50 335.55L255.00 335.42L255.50 335.24L256.00 334.93L256.50 334.97L257.00 335.84L257.50 336.49L258.00 336.54L258.50 336.19L259.00 335.91L259.50 335.60L260.00 335.58L260.50 335.96L261.00 335.83L261.50 335.96L262.00 335.94L262.50 335.21L263.00 335.24L263.50 335.31L264.00 335.24L264.50 336.07L265.00 336.44L265.50 336.21L266.00 336.63L266.50 336.95L267.00 336.51L267.50 336.56L268.00 336.84L268.50 336.49L269.00 336.54L269.50 336.16" fill="none" stroke="#0c0cf0" stroke-width="2.30" stroke-linejoin="round" stroke-linecap="round"/>
<path d="M302.00 353.18L302.50 353.07L303.00 353.54L303.50 353.36L304.00 353.00L304.50 353.45L305.00 353.98L305.50 353.82L306.00 353.70L306.50 353.17L307.00 352.48L307.50 352.69L308.00 352.62L308.50 352.23L309.00 352.92L309.50 352.96L310.00 351.87L310.50 352.07L311.00 353.09L311.50 352.85L312.00 352.54L312.50 352.27L313.00 351.52L313.50 351.35L314.00 351.41L314.50 352.31L315.00 351.84L315.50 351.69L316.00 351.67L316.50 350.87L317.00 351.51L317.50 351.77L318.00 351.47L318.50 350.51L319.00 350.46L319.50 350.62L320.00 351.38L320.50 351.60L321.00 350.57L321.50 350.08L322.00 349.68L322.50 349.45L323.00 349.82L323.50 349.97L324.00 349.51L324.50 348.98L325.00 348.11L325.50 348.32L326.00 347.46L326.50 345.43L327.00 344.95L327.50 343.99L328.00 342.20L328.50 341.26L329.00 339.07L329.50 336.65L330.00 333.92L330.50 330.96L331.00 328.09L331.50 323.22L332.00 318.04L332.50 312.84L333.00 307.48L333.50 302.29L334.00 295.28L334.50 288.49L335.00 281.56L335.50 273.71L336.00 266.30L336.50 260.26L337.00 253.95L337.50 246.49L338.00 239.91L338.50 234.50L339.00 228.91L339.50 224.29L340.00 222.67L340.50 220.22L341.00 218.14L341.50 218.42L342.00 219.06L342.50 220.84L343.00 224.58L343.50 228.63L344.00 233.23L344.50 238.57L345.00 244.70L345.50 251.46L346.00 258.84L346.50 266.22L347.00 272.74L347.50 278.64L348.00 285.98L348.50 293.94L349.00 299.69L349.50 304.62L350.00 310.10L350.50 316.34L351.00 321.00L351.50 324.61L352.00 328.79L352.50 332.68L353.00 335.40L353.50 337.31L354.00 339.17L354.50 341.59L355.00 343.68L355.50 344.22L356.00 344.25L356.50 344.79L357.00 346.21L357.50 346.76L358.00 347.29L358.50 348.04L359.00 348.06L359.50 348.37L360.00 348.60L360.50 348.12L361.00 347.88L361.50 349.18L362.00 348.88L362.50 347.82L363.00 348.72L363.50 348.85L364.00 348.12L364.50 347.67L365.00 348.18L365.50 349.08L366.00 349.39L366.50 348.99L367.00 348.81L367.50 348.35L368.00 347.95L368.50 348.04L369.00 347.98L369.50 348.47L370.00 348.74L370.50 347.99L371.00 347.99L371.50 348.11L372.00 347.13L372.50 347.16L373.00 346.90L373.50 346.88L374.00 347.46L374.50 347.29L375.00 347.28L375.50 347.14L376.00 346.83L376.50 346.29L377.00 346.21L377.50 346.34L378.00 346.05L378.50 346.24L379.00 346.39L379.50 345.69L380.00 344.91L380.50 345.34L381.00 346.04L381.50 346.20L382.00 346.26L382.50 346.52L383.00 346.26L383.50 345.64L384.00 344.94L384.50 344.47L385.00 344.58L385.50 344.94L386.00 345.09L386.50 344.88L387.00 344.62L387.50 344.74L388.00 344.77L388.50 344.52L389.00 344.44L389.50 343.99L390.00 343.35L390.50 343.63L391.00 344.08L391.50 343.68L392.00 343.23L392.50 344.08L393.00 343.83L393.50 342.73L394.00 343.01L394.50 342.52L395.00 342.34L395.50 343.37L396.00 343.57L396.50 342.99L397.00 342.74L397.50 342.41L398.00 342.43L398.50 342.20L399.00 341.54L399.50 341.52L400.00 341.91L400.50 341.87L401.00 341.65L401.50 340.61L402.00 340.69L402.50 342.26L403.00 342.18L403.50 341.02L404.00 340.04L404.50 340.14L405.00 339.96L405.50 340.00L406.00 340.05L406.50 340.01L407.00 340.61L407.50 339.32L408.00 338.77L408.50 339.15L409.00 338.36L409.50 338.25L410.00 338.58L410.50 339.09L411.00 338.44L411.50 338.31L412.00 339.55L412.50 339.23L413.00 338.52L413.50 338.14L414.00 337.32L414.50 337.39L415.00 337.85L415.50 337.79L416.00 338.49L416.50 338.34L417.00 337.36L417.50 337.54L418.00 336.71L418.50 335.51L419.00 335.74L419.50 335.78L420.00 336.05L420.50 336.04L421.00 336.30L421.50 336.87L422.00 336.35L422.50 335.46L423.00 335.26L423.50 335.58L424.00 334.78L424.50 334.46L425.00 335.01L425.50 334.82L426.00 335.01L426.50 335.25L427.00 334.18L427.50 333.61L428.00 333.46L428.50 333.49L429.00 333.34L429.50 333.33L430.00 333.67L430.50 333.55L431.00 333.20L431.50 332.11L432.00 332.71L432.50 333.07L433.00 332.77L433.50 332.87L434.00 332.45L434.50 332.86L435.00 332.59L435.50 332.28L436.00 331.44L436.50 331.09L437.00 331.44L437.50 330.92L438.00 330.88L438.50 330.94L439.00 331.45L439.50 330.46L440.00 329.71L440.50 330.02L441.00 330.33L441.50 330.31L442.00 329.91L442.50 329.78L443.00 329.74L443.50 330.15L444.00 329.61L444.50 329.10L445.00 328.57L445.50 328.54L446.00 329.29L446.50 328.83L447.00 328.80L447.50 328.08L448.00 326.80L448.50 326.93L449.00 327.34L449.50 327.76L450.00 327.79L450.50 327.64L451.00 327.83L451.50 327.55L452.00 326.66L452.50 326.25L453.00 327.45L453.50 326.90L454.00 325.91L454.50 327.28L455.00 327.43L455.50 326.44L456.00 326.16L456.50 326.72L457.00 327.09L457.50 326.32L458.00 326.05L458.50 326.41L459.00 326.44L459.50 326.79L460.00 326.12L460.50 324.92L461.00 325.10L461.50 326.25L462.00 326.26L462.50 325.55L463.00 326.11L463.50 325.50L464.00 324.80L464.50 324.86L465.00 324.39L465.50 324.50L466.00 324.90L466.50 324.31L467.00 323.29L467.50 322.77L468.00 322.85L468.50 322.90L469.00 322.40L469.50 321.58L470.00 320.57L470.50 320.54L471.00 319.61L471.50 318.25L472.00 317.13L472.50 315.13L473.00 312.47L473.50 310.89L474.00 309.21L474.50 306.61L475.00 302.93L475.50 298.85L476.00 295.57L476.50 292.51L477.00 290.28L477.50 287.35L478.00 283.46L478.50 279.94L479.00 277.08L479.50 274.02L480.00 271.35L480.50 269.43L481.00 266.86L481.50 265.67L482.00 266.68L482.50 266.96L483.00 267.29L483.50 268.73L484.00 270.66L484.50 273.88L485.00 276.91L485.50 279.33L486.00 281.69L486.50 285.48L487.00 289.58L487.50 292.74L488.00 297.38L488.50 301.79L489.00 303.99L489.50 307.08L490.00 310.80L490.50 312.72L491.00 315.12L491.50 316.85L492.00 317.90L492.50 319.55L493.00 320.95L493.50 323.03L494.00 323.94L494.50 323.99L495.00 324.84L495.50 325.95L496.00 326.68L496.50 327.34L497.00 327.53L497.50 326.97L498.00 327.27L498.50 327.98L499.00 327.97L499.50 328.20L500.00 329.38L500.50 329.15L501.00 328.56L501.50 329.39L502.00 329.20L502.50 328.42L503.00 328.31L503.50 328.85L504.00 329.54L504.50 329.38L505.00 329.24L505.50 329.84L506.00 330.21L506.50 329.20L507.00 328.90L507.50 329.52L508.00 329.83L508.50 329.73L509.00 329.22L509.50 329.14L510.00 328.72L510.50 328.90L511.00 329.37L511.50 329.56L512.00 329.40L512.50 329.05L513.00 329.07L513.50 328.82L514.00 329.47L514.50 329.70L515.00 329.59L515.50 329.33L516.00 329.18L516.50 328.95L517.00 328.71L517.50 329.16L518.00 329.55L518.50 329.80L519.00 329.49L519.50 329.73L520.00 329.85L520.50 329.71L521.00 329.90L521.50 329.63L522.00 329.18L522.50 329.28L523.00 329.18L523.50 329.15L524.00 329.68L524.50 329.80L525.00 329.15L525.50 328.25L526.00 328.31L526.50 328.68L527.00 329.06L527.50 328.88L528.00 328.30L528.50 328.65L529.00 328.47L529.50 328.05L530.00 328.83L530.50 329.39L531.00 328.90L531.50 328.35L532.00 327.65L532.50 327.68L533.00 328.00L533.50 327.79L534.00 327.48L534.50 327.31L535.00 327.35L535.50 327.39L536.00 327.93L536.50 327.85L537.00 326.56L537.50 325.95L538.00 325.89L538.50 325.86L539.00 326.60L539.50 326.97L540.00 326.42L540.50 326.27L541.00 326.10" fill="none" stroke="#ff0cff" stroke-width="2.60" stroke-linejoin="round" stroke-linecap="round"/>
<rect x="26" y="5" width="244.1" height="1.2" fill="#2c2c2c"/><rect x="26" y="5" width="1.2" height="154.5" fill="#2c2c2c"/><rect x="269" y="5" width="1.1" height="154.5" fill="#2c2c2c"/><rect x="26" y="158.0" width="244.1" height="1.5" fill="#3a3a3a"/><rect x="298" y="6" width="240.0" height="1.2" fill="#2c2c2c"/><rect x="298" y="6" width="1.2" height="152.6" fill="#2c2c2c"/><rect x="537" y="6" width="1.1" height="152.6" fill="#2c2c2c"/><rect x="298" y="157.5" width="240.1" height="1.2" fill="#2c2c2c"/><rect x="26" y="190" width="244.8" height="1.5" fill="#3a3a3a"/><rect x="26" y="190" width="1.5" height="165.6" fill="#3a3a3a"/><rect x="269.2" y="190" width="1.5" height="165.6" fill="#404040"/><rect x="26" y="354.0" width="244.7" height="1.6" fill="#3a3a3a"/><rect x="298" y="190" width="244.2" height="1.2" fill="#2c2c2c"/><rect x="298" y="190" width="1.2" height="166.3" fill="#2c2c2c"/><rect x="541" y="190" width="1.2" height="166.3" fill="#2c2c2c"/><rect x="298" y="355.0" width="244.2" height="1.3" fill="#2c2c2c"/>
<line x1="358.4" y1="158.4" x2="358.4" y2="161.4" stroke="#303030" stroke-width="1"/><line x1="507.8" y1="158.4" x2="507.8" y2="161.4" stroke="#303030" stroke-width="1"/><line x1="87.4" y1="355.0" x2="87.4" y2="356.8" stroke="#303030" stroke-width="0.9"/><line x1="148.2" y1="355.0" x2="148.2" y2="356.8" stroke="#303030" stroke-width="0.9"/><line x1="209.1" y1="355.0" x2="209.1" y2="356.8" stroke="#303030" stroke-width="0.9"/>
<text x="26.5" y="168.9" font-size="10.2" text-anchor="middle" font-family="Liberation Sans, sans-serif" font-weight="bold" fill="#000" stroke="#000" stroke-width="0.3">10</text>
<text x="61.2" y="168.9" font-size="10.2" text-anchor="middle" font-family="Liberation Sans, sans-serif" font-weight="bold" fill="#000" stroke="#000" stroke-width="0.3">20</text>
<text x="95.9" y="168.9" font-size="10.2" text-anchor="middle" font-family="Liberation Sans, sans-serif" font-weight="bold" fill="#000" stroke="#000" stroke-width="0.3">30</text>
<text x="130.6" y="168.9" font-size="10.2" text-anchor="middle" font-family="Liberation Sans, sans-serif" font-weight="bold" fill="#000" stroke="#000" stroke-width="0.3">40</text>
<text x="165.4" y="168.9" font-size="10.2" text-anchor="middle" font-family="Liberation Sans, sans-serif" font-weight="bold" fill="#000" stroke="#000" stroke-width="0.3">50</text>
<text x="200.1" y="168.9" font-size="10.2" text-anchor="middle" font-family="Liberation Sans, sans-serif" font-weight="bold" fill="#000" stroke="#000" stroke-width="0.3">60</text>
<text x="234.8" y="168.9" font-size="10.2" text-anchor="middle" font-family="Liberation Sans, sans-serif" font-weight="bold" fill="#000" stroke="#000" stroke-width="0.3">70</text>
<text x="269.5" y="168.9" font-size="10.2" text-anchor="middle" font-family="Liberation Sans, sans-serif" font-weight="bold" fill="#000" stroke="#000" stroke-width="0.3">80</text>
<text x="148.0" y="184.2" font-size="11" text-anchor="middle" font-family="Liberation Sans, sans-serif" font-weight="bold" fill="#000" stroke="#000" stroke-width="0.3">2 Theta (degree)</text>
<text x="358.4" y="172.7" font-size="10.6" text-anchor="middle" font-family="Liberation Sans, sans-serif" font-weight="bold" fill="#000" stroke="#000" stroke-width="0.3">160</text>
<text x="507.8" y="172.7" font-size="10.6" text-anchor="middle" font-family="Liberation Sans, sans-serif" font-weight="bold" fill="#000" stroke="#000" stroke-width="0.3">165</text>
<text x="423.0" y="183.3" font-size="11" text-anchor="middle" font-family="Liberation Sans, sans-serif" font-weight="bold" fill="#000" stroke="#000" stroke-width="0.3">Binding energy (eV)</text>
<text x="26.5" y="366.3" font-size="10.4" text-anchor="middle" font-family="Liberation Sans, sans-serif" font-weight="bold" fill="#000" stroke="#000" stroke-width="0.3">440</text>
<text x="87.4" y="366.3" font-size="10.4" text-anchor="middle" font-family="Liberation Sans, sans-serif" font-weight="bold" fill="#000" stroke="#000" stroke-width="0.3">444</text>
<text x="148.2" y="366.3" font-size="10.4" text-anchor="middle" font-family="Liberation Sans, sans-serif" font-weight="bold" fill="#000" stroke="#000" stroke-width="0.3">448</text>
<text x="209.1" y="366.3" font-size="10.4" text-anchor="middle" font-family="Liberation Sans, sans-serif" font-weight="bold" fill="#000" stroke="#000" stroke-width="0.3">452</text>
<text x="270.0" y="366.3" font-size="10.4" text-anchor="middle" font-family="Liberation Sans, sans-serif" font-weight="bold" fill="#000" stroke="#000" stroke-width="0.3">456</text>
<text x="148.7" y="378.6" font-size="11" text-anchor="middle" font-family="Liberation Sans, sans-serif" font-weight="bold" fill="#000" stroke="#000" stroke-width="0.3">Binding energy (eV)</text>
<text x="329.3" y="366.6" font-size="10.6" text-anchor="middle" font-family="Liberation Sans, sans-serif" font-weight="bold" fill="#000" stroke="#000" stroke-width="0.3">1020</text>
<text x="390.0" y="366.6" font-size="10.6" text-anchor="middle" font-family="Liberation Sans, sans-serif" font-weight="bold" fill="#000" stroke="#000" stroke-width="0.3">1030</text>
<text x="450.6" y="366.6" font-size="10.6" text-anchor="middle" font-family="Liberation Sans, sans-serif" font-weight="bold" fill="#000" stroke="#000" stroke-width="0.3">1040</text>
<text x="511.3" y="366.6" font-size="10.6" text-anchor="middle" font-family="Liberation Sans, sans-serif" font-weight="bold" fill="#000" stroke="#000" stroke-width="0.3">1050</text>
<text x="420.0" y="378.0" font-size="11" text-anchor="middle" font-family="Liberation Sans, sans-serif" font-weight="bold" fill="#000" stroke="#000" stroke-width="0.3">Binding energy (eV)</text>
<text x="0" y="0" font-size="10.5" text-anchor="middle" font-family="Liberation Sans, sans-serif" font-weight="bold" fill="#000" stroke="#000" stroke-width="0.3" transform="translate(21.9,82.0) rotate(-90) scale(1.06,1)">Intensity (a.u.)</text>
<text x="0" y="0" font-size="10.5" text-anchor="middle" font-family="Liberation Sans, sans-serif" font-weight="bold" fill="#000" stroke="#000" stroke-width="0.3" transform="translate(292.6,81.8) rotate(-90) scale(1.06,1)">Intensity (a.u.)</text>
<text x="0" y="0" font-size="10.5" text-anchor="middle" font-family="Liberation Sans, sans-serif" font-weight="bold" fill="#000" stroke="#000" stroke-width="0.3" transform="translate(22.1,272.9) rotate(-90) scale(1.06,1)">Intensity (a.u.)</text>
<text x="0" y="0" font-size="10.5" text-anchor="middle" font-family="Liberation Sans, sans-serif" font-weight="bold" fill="#000" stroke="#000" stroke-width="0.3" transform="translate(292.4,272.0) rotate(-90) scale(1.06,1)">Intensity (a.u.)</text>
<text x="27.3" y="17.9" font-size="12" text-anchor="start" font-family="Liberation Serif, serif" font-weight="bold" fill="#000" stroke="#000" stroke-width="0.3">(a)</text>
<text x="300.2" y="18.9" font-size="12" text-anchor="start" font-family="Liberation Serif, serif" font-weight="bold" fill="#000" stroke="#000" stroke-width="0.3">(b)</text>
<text x="27.9" y="203.4" font-size="12" text-anchor="start" font-family="Liberation Serif, serif" font-weight="bold" fill="#000" stroke="#000" stroke-width="0.3">(c)</text>
<text x="299.8" y="203.4" font-size="12" text-anchor="start" font-family="Liberation Serif, serif" font-weight="bold" fill="#000" stroke="#000" stroke-width="0.3">(d)</text>
<text x="218.2" y="50.6" font-size="9.8" text-anchor="start" font-family="Liberation Serif, serif" font-weight="bold" fill="#000" stroke="#000" stroke-width="0.3">ZIS5</text>
<text x="218.8" y="73.0" font-size="9.8" text-anchor="start" font-family="Liberation Serif, serif" font-weight="bold" fill="#000" stroke="#000" stroke-width="0.3">ZIS4</text>
<text x="220.3" y="98.4" font-size="9.8" text-anchor="start" font-family="Liberation Serif, serif" font-weight="bold" fill="#000" stroke="#000" stroke-width="0.3">ZIS3</text>
<text x="219.1" y="123.2" font-size="9.8" text-anchor="start" font-family="Liberation Serif, serif" font-weight="bold" fill="#000" stroke="#000" stroke-width="0.3">ZIS2</text>
<text x="220.3" y="144.3" font-size="9.8" text-anchor="start" font-family="Liberation Serif, serif" font-weight="bold" fill="#000" stroke="#000" stroke-width="0.3">ZIS1</text>
<text x="0" y="0" font-size="9.6" text-anchor="middle" font-family="Liberation Sans, sans-serif" font-weight="bold" fill="#111" stroke="#111" stroke-width="0.12" transform="translate(76.9,19.0) rotate(-90)">(102)</text>
<text x="0" y="0" font-size="9.6" text-anchor="middle" font-family="Liberation Sans, sans-serif" font-weight="bold" fill="#111" stroke="#111" stroke-width="0.12" transform="translate(102.4,17.9) rotate(-90)">(104)</text>
<text x="0" y="0" font-size="9.6" text-anchor="middle" font-family="Liberation Sans, sans-serif" font-weight="bold" fill="#111" stroke="#111" stroke-width="0.12" transform="translate(146.7,25.3) rotate(-90)">(112)</text>
<text x="0" y="0" font-size="9.6" text-anchor="middle" font-family="Liberation Sans, sans-serif" font-weight="bold" fill="#111" stroke="#111" stroke-width="0.12" transform="translate(190.2,29.4) rotate(-90)">(202)</text>
<text x="444.2" y="24.6" font-size="10.8" text-anchor="start" font-family="Liberation Sans, sans-serif" font-weight="bold" fill="#f22a2a" stroke="#f22a2a" stroke-width="0.3">161.52 eV</text>
<text x="453.4" y="38.4" font-size="10.8" font-family="Liberation Sans, sans-serif" font-weight="bold" fill="#f22a2a" stroke="#f22a2a" stroke-width="0.3">S 2p<tspan font-size="7.2" dy="2.6">3/2</tspan></text>
<text x="528.3" y="23.3" font-size="10.8" text-anchor="end" font-family="Liberation Sans, sans-serif" font-weight="bold" fill="#000" stroke="#000" stroke-width="0.3">S 2p</text>
<text x="473.5" y="80.8" font-size="10.8" text-anchor="start" font-family="Liberation Sans, sans-serif" font-weight="bold" fill="#1a64dc" stroke="#1a64dc" stroke-width="0.3">162.71 eV</text>
<text x="482.4" y="94.4" font-size="10.8" font-family="Liberation Sans, sans-serif" font-weight="bold" fill="#1a64dc" stroke="#1a64dc" stroke-width="0.3">S 2p<tspan font-size="7.2" dy="2.6">1/2</tspan></text>
<text x="101.2" y="210.3" font-size="10.8" text-anchor="middle" font-family="Liberation Sans, sans-serif" font-weight="bold" fill="#000" stroke="#000" stroke-width="0.3">444.6 eV</text>
<text x="220.9" y="245.4" font-size="10.8" text-anchor="middle" font-family="Liberation Sans, sans-serif" font-weight="bold" fill="#000" stroke="#000" stroke-width="0.3">452.2 eV</text>
<text x="223.2" y="206.5" font-size="10.8" text-anchor="start" font-family="Liberation Sans, sans-serif" font-weight="bold" fill="#000" stroke="#000" stroke-width="0.3">In 3d</text>
<text x="351.8" y="214.9" font-size="10.8" text-anchor="middle" font-family="Liberation Sans, sans-serif" font-weight="bold" fill="#000" stroke="#000" stroke-width="0.3">1022.1 eV</text>
<text x="489.8" y="259.4" font-size="10.8" text-anchor="middle" font-family="Liberation Sans, sans-serif" font-weight="bold" fill="#000" stroke="#000" stroke-width="0.3">1045.2 eV</text>
<text x="491.1" y="203.9" font-size="10.8" text-anchor="start" font-family="Liberation Sans, sans-serif" font-weight="bold" fill="#000" stroke="#000" stroke-width="0.3">Zn 2p</text>
</svg>
</body></html>
